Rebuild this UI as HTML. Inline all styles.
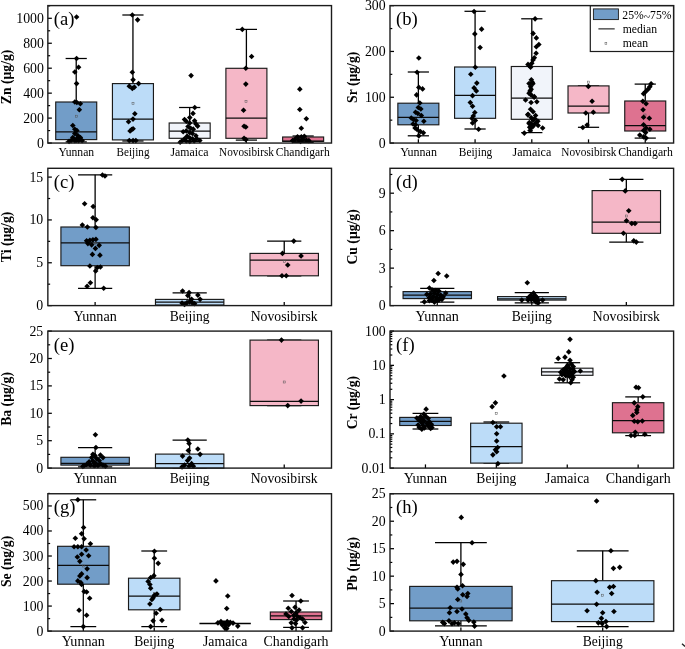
<!DOCTYPE html>
<html lang="en">
<head>
<meta charset="utf-8">
<title>Box plots of element concentrations</title>
<style>
html,body{margin:0;padding:0;background:#fff;}
body{width:685px;height:649px;overflow:hidden;}
svg{display:block;}
svg text{font-family:"Liberation Serif", "DejaVu Serif", serif;fill:#000;}
</style>
</head>
<body>
<svg width="685" height="649" viewBox="0 0 685 649">
<rect width="685" height="649" fill="#fff"/>
<line x1="47.85" y1="143.05" x2="51.85" y2="143.05" stroke="#000" stroke-width="1.25"/>
<text x="43.85" y="147.55" font-size="13.8" text-anchor="end" font-weight="normal" >0</text>
<line x1="47.85" y1="118.1" x2="51.85" y2="118.1" stroke="#000" stroke-width="1.25"/>
<text x="43.85" y="122.6" font-size="13.8" text-anchor="end" font-weight="normal" >200</text>
<line x1="47.85" y1="93.15" x2="51.85" y2="93.15" stroke="#000" stroke-width="1.25"/>
<text x="43.85" y="97.65" font-size="13.8" text-anchor="end" font-weight="normal" >400</text>
<line x1="47.85" y1="68.2" x2="51.85" y2="68.2" stroke="#000" stroke-width="1.25"/>
<text x="43.85" y="72.7" font-size="13.8" text-anchor="end" font-weight="normal" >600</text>
<line x1="47.85" y1="43.25" x2="51.85" y2="43.25" stroke="#000" stroke-width="1.25"/>
<text x="43.85" y="47.75" font-size="13.8" text-anchor="end" font-weight="normal" >800</text>
<line x1="47.85" y1="18.3" x2="51.85" y2="18.3" stroke="#000" stroke-width="1.25"/>
<text x="43.85" y="22.8" font-size="13.8" text-anchor="end" font-weight="normal" >1000</text>
<line x1="47.85" y1="130.58" x2="50.15" y2="130.58" stroke="#000" stroke-width="1.2"/>
<line x1="47.85" y1="105.63" x2="50.15" y2="105.63" stroke="#000" stroke-width="1.2"/>
<line x1="47.85" y1="80.68" x2="50.15" y2="80.68" stroke="#000" stroke-width="1.2"/>
<line x1="47.85" y1="55.73" x2="50.15" y2="55.73" stroke="#000" stroke-width="1.2"/>
<line x1="47.85" y1="30.78" x2="50.15" y2="30.78" stroke="#000" stroke-width="1.2"/>
<line x1="47.85" y1="5.83" x2="50.15" y2="5.83" stroke="#000" stroke-width="1.2"/>
<line x1="76.22" y1="139.35" x2="76.22" y2="143.05" stroke="#000" stroke-width="1.25"/>
<text x="58.6" y="156.2" font-size="12.2" font-weight="normal" textLength="35.5" lengthAdjust="spacingAndGlyphs">Yunnan</text>
<line x1="132.94" y1="139.35" x2="132.94" y2="143.05" stroke="#000" stroke-width="1.25"/>
<text x="116.6" y="156.2" font-size="12.2" font-weight="normal" textLength="32.89" lengthAdjust="spacingAndGlyphs">Beijing</text>
<line x1="189.67" y1="139.35" x2="189.67" y2="143.05" stroke="#000" stroke-width="1.25"/>
<text x="170.5" y="156.2" font-size="12.2" font-weight="normal" textLength="38.1" lengthAdjust="spacingAndGlyphs">Jamaica</text>
<line x1="246.4" y1="139.35" x2="246.4" y2="143.05" stroke="#000" stroke-width="1.25"/>
<text x="219.1" y="156.2" font-size="12.2" font-weight="normal" textLength="54.79" lengthAdjust="spacingAndGlyphs">Novosibirsk</text>
<line x1="303.13" y1="139.35" x2="303.13" y2="143.05" stroke="#000" stroke-width="1.25"/>
<text x="275.8" y="156.2" font-size="12.2" font-weight="normal" textLength="53.91" lengthAdjust="spacingAndGlyphs">Chandigarh</text>
<text x="53.85" y="25" font-size="18.6" text-anchor="start" font-weight="normal" >(a)</text>
<text transform="translate(11.2 76.92) rotate(-90)" font-size="13.7" font-weight="bold" text-anchor="middle">Zn (μg/g)</text>
<line x1="76.22" y1="58.5" x2="76.22" y2="102" stroke="#000" stroke-width="1.3"/>
<line x1="76.22" y1="139.6" x2="76.22" y2="141.9" stroke="#000" stroke-width="1.25"/>
<line x1="65.62" y1="58.5" x2="86.81" y2="58.5" stroke="#000" stroke-width="1.25"/>
<line x1="65.62" y1="141.9" x2="86.81" y2="141.9" stroke="#000" stroke-width="1.25"/>
<rect x="55.72" y="102" width="41" height="37.6" fill="#729dc8" stroke="#1a1a1a" stroke-width="1.15"/>
<line x1="55.72" y1="131.8" x2="96.72" y2="131.8" stroke="#0c0c0c" stroke-width="1.25"/>
<rect x="75.6" y="115.2" width="2" height="2" fill="none" stroke="#555" stroke-width="0.5"/>
<line x1="132.94" y1="15" x2="132.94" y2="83.6" stroke="#000" stroke-width="1.3"/>
<line x1="132.94" y1="139.9" x2="132.94" y2="141" stroke="#000" stroke-width="1.25"/>
<line x1="122.34" y1="15" x2="143.54" y2="15" stroke="#000" stroke-width="1.25"/>
<line x1="122.34" y1="141" x2="143.54" y2="141" stroke="#000" stroke-width="1.25"/>
<rect x="112.44" y="83.6" width="41" height="56.3" fill="#bcdcf8" stroke="#1a1a1a" stroke-width="1.15"/>
<line x1="112.44" y1="119" x2="153.44" y2="119" stroke="#0c0c0c" stroke-width="1.25"/>
<rect x="132" y="102.7" width="2" height="2" fill="none" stroke="#555" stroke-width="0.5"/>
<line x1="189.67" y1="107.5" x2="189.67" y2="123" stroke="#000" stroke-width="1.3"/>
<line x1="189.67" y1="138.3" x2="189.67" y2="141.6" stroke="#000" stroke-width="1.25"/>
<line x1="179.07" y1="107.5" x2="200.27" y2="107.5" stroke="#000" stroke-width="1.25"/>
<line x1="179.07" y1="141.6" x2="200.27" y2="141.6" stroke="#000" stroke-width="1.25"/>
<rect x="169.17" y="123" width="41" height="15.3" fill="#f1f4fa" stroke="#1a1a1a" stroke-width="1.15"/>
<line x1="169.17" y1="131" x2="210.17" y2="131" stroke="#0c0c0c" stroke-width="1.25"/>
<rect x="188.6" y="128" width="2" height="2" fill="none" stroke="#555" stroke-width="0.5"/>
<line x1="246.4" y1="29.4" x2="246.4" y2="68.3" stroke="#000" stroke-width="1.3"/>
<line x1="246.4" y1="138.3" x2="246.4" y2="140.1" stroke="#000" stroke-width="1.25"/>
<line x1="235.8" y1="29.4" x2="257" y2="29.4" stroke="#000" stroke-width="1.25"/>
<line x1="235.8" y1="140.1" x2="257" y2="140.1" stroke="#000" stroke-width="1.25"/>
<rect x="225.9" y="68.3" width="41" height="70" fill="#f5b7c7" stroke="#1a1a1a" stroke-width="1.15"/>
<line x1="225.9" y1="118" x2="266.9" y2="118" stroke="#0c0c0c" stroke-width="1.25"/>
<rect x="245" y="100.7" width="2" height="2" fill="none" stroke="#555" stroke-width="0.5"/>
<line x1="303.13" y1="136" x2="303.13" y2="137" stroke="#000" stroke-width="1.3"/>
<line x1="303.13" y1="141.4" x2="303.13" y2="142.4" stroke="#000" stroke-width="1.25"/>
<line x1="292.53" y1="136" x2="313.74" y2="136" stroke="#000" stroke-width="1.25"/>
<line x1="292.53" y1="142.4" x2="313.74" y2="142.4" stroke="#000" stroke-width="1.25"/>
<rect x="282.63" y="137" width="41" height="4.4" fill="#de7290" stroke="#1a1a1a" stroke-width="1.15"/>
<line x1="282.63" y1="141" x2="323.63" y2="141" stroke="#0c0c0c" stroke-width="1.25"/>
<rect x="301.5" y="137" width="2" height="2" fill="none" stroke="#555" stroke-width="0.5"/>
<line x1="390" y1="143.05" x2="394" y2="143.05" stroke="#000" stroke-width="1.25"/>
<text x="385.6" y="147.55" font-size="13.8" text-anchor="end" font-weight="normal" >0</text>
<line x1="390" y1="97.25" x2="394" y2="97.25" stroke="#000" stroke-width="1.25"/>
<text x="385.6" y="101.75" font-size="13.8" text-anchor="end" font-weight="normal" >100</text>
<line x1="390" y1="51.45" x2="394" y2="51.45" stroke="#000" stroke-width="1.25"/>
<text x="385.6" y="55.95" font-size="13.8" text-anchor="end" font-weight="normal" >200</text>
<line x1="390" y1="5.65" x2="394" y2="5.65" stroke="#000" stroke-width="1.25"/>
<text x="385.6" y="10.15" font-size="13.8" text-anchor="end" font-weight="normal" >300</text>
<line x1="390" y1="120.15" x2="392.3" y2="120.15" stroke="#000" stroke-width="1.2"/>
<line x1="390" y1="74.35" x2="392.3" y2="74.35" stroke="#000" stroke-width="1.2"/>
<line x1="390" y1="28.55" x2="392.3" y2="28.55" stroke="#000" stroke-width="1.2"/>
<line x1="418.36" y1="139.35" x2="418.36" y2="143.05" stroke="#000" stroke-width="1.25"/>
<text x="400.3" y="156.2" font-size="12.2" font-weight="normal" textLength="36.6" lengthAdjust="spacingAndGlyphs">Yunnan</text>
<line x1="475.08" y1="139.35" x2="475.08" y2="143.05" stroke="#000" stroke-width="1.25"/>
<text x="458.8" y="156.2" font-size="12.2" font-weight="normal" textLength="33.49" lengthAdjust="spacingAndGlyphs">Beijing</text>
<line x1="531.8" y1="139.35" x2="531.8" y2="143.05" stroke="#000" stroke-width="1.25"/>
<text x="512.6" y="156.2" font-size="12.2" font-weight="normal" textLength="38.7" lengthAdjust="spacingAndGlyphs">Jamaica</text>
<line x1="588.52" y1="139.35" x2="588.52" y2="143.05" stroke="#000" stroke-width="1.25"/>
<text x="561.3" y="156.2" font-size="12.2" font-weight="normal" textLength="55.19" lengthAdjust="spacingAndGlyphs">Novosibirsk</text>
<line x1="645.24" y1="139.35" x2="645.24" y2="143.05" stroke="#000" stroke-width="1.25"/>
<text x="618.2" y="156.2" font-size="12.2" font-weight="normal" textLength="54.71" lengthAdjust="spacingAndGlyphs">Chandigarh</text>
<text x="396" y="25" font-size="18.6" text-anchor="start" font-weight="normal" >(b)</text>
<text transform="translate(357.3 77.33) rotate(-90)" font-size="13.7" font-weight="bold" text-anchor="middle">Sr (μg/g)</text>
<line x1="418.36" y1="72" x2="418.36" y2="103.2" stroke="#000" stroke-width="1.3"/>
<line x1="418.36" y1="124.8" x2="418.36" y2="135.8" stroke="#000" stroke-width="1.25"/>
<line x1="407.76" y1="72" x2="428.96" y2="72" stroke="#000" stroke-width="1.25"/>
<line x1="407.76" y1="135.8" x2="428.96" y2="135.8" stroke="#000" stroke-width="1.25"/>
<rect x="397.86" y="103.2" width="41" height="21.6" fill="#729dc8" stroke="#1a1a1a" stroke-width="1.15"/>
<line x1="397.86" y1="117.3" x2="438.86" y2="117.3" stroke="#0c0c0c" stroke-width="1.25"/>
<rect x="417.3" y="112.5" width="2" height="2" fill="none" stroke="#555" stroke-width="0.5"/>
<line x1="475.08" y1="11.3" x2="475.08" y2="67" stroke="#000" stroke-width="1.3"/>
<line x1="475.08" y1="118.3" x2="475.08" y2="129" stroke="#000" stroke-width="1.25"/>
<line x1="464.48" y1="11.3" x2="485.68" y2="11.3" stroke="#000" stroke-width="1.25"/>
<line x1="464.48" y1="129" x2="485.68" y2="129" stroke="#000" stroke-width="1.25"/>
<rect x="454.58" y="67" width="41" height="51.3" fill="#bcdcf8" stroke="#1a1a1a" stroke-width="1.15"/>
<line x1="454.58" y1="95.4" x2="495.58" y2="95.4" stroke="#0c0c0c" stroke-width="1.25"/>
<rect x="473.8" y="88" width="2" height="2" fill="none" stroke="#555" stroke-width="0.5"/>
<line x1="531.8" y1="18.8" x2="531.8" y2="66.5" stroke="#000" stroke-width="1.3"/>
<line x1="531.8" y1="119.3" x2="531.8" y2="132.6" stroke="#000" stroke-width="1.25"/>
<line x1="521.2" y1="18.8" x2="542.4" y2="18.8" stroke="#000" stroke-width="1.25"/>
<line x1="521.2" y1="132.6" x2="542.4" y2="132.6" stroke="#000" stroke-width="1.25"/>
<rect x="511.3" y="66.5" width="41" height="52.8" fill="#f1f4fa" stroke="#1a1a1a" stroke-width="1.15"/>
<line x1="511.3" y1="98.2" x2="552.3" y2="98.2" stroke="#0c0c0c" stroke-width="1.25"/>
<rect x="530.5" y="93" width="2" height="2" fill="none" stroke="#555" stroke-width="0.5"/>
<line x1="588.52" y1="113" x2="588.52" y2="127.3" stroke="#000" stroke-width="1.25"/>
<line x1="577.92" y1="85.9" x2="599.12" y2="85.9" stroke="#000" stroke-width="1.25"/>
<line x1="577.92" y1="127.3" x2="599.12" y2="127.3" stroke="#000" stroke-width="1.25"/>
<rect x="568.02" y="85.9" width="41" height="27.1" fill="#f5b7c7" stroke="#1a1a1a" stroke-width="1.15"/>
<line x1="568.02" y1="106.2" x2="609.02" y2="106.2" stroke="#0c0c0c" stroke-width="1.25"/>
<rect x="587.3" y="81.1" width="2" height="2" fill="none" stroke="#555" stroke-width="0.5"/>
<line x1="645.24" y1="84.1" x2="645.24" y2="101" stroke="#000" stroke-width="1.3"/>
<line x1="645.24" y1="131" x2="645.24" y2="138.1" stroke="#000" stroke-width="1.25"/>
<line x1="634.64" y1="84.1" x2="655.84" y2="84.1" stroke="#000" stroke-width="1.25"/>
<line x1="634.64" y1="138.1" x2="655.84" y2="138.1" stroke="#000" stroke-width="1.25"/>
<rect x="624.74" y="101" width="41" height="30" fill="#de7290" stroke="#1a1a1a" stroke-width="1.15"/>
<line x1="624.74" y1="125.6" x2="665.74" y2="125.6" stroke="#0c0c0c" stroke-width="1.25"/>
<rect x="644" y="114" width="2" height="2" fill="none" stroke="#555" stroke-width="0.5"/>
<rect x="590.3" y="5.6" width="83.3" height="45.9" fill="#fff" stroke="#1c1c1c" stroke-width="1.2"/>
<rect x="593.4" y="8.9" width="25" height="10.7" fill="#729dc8" stroke="#1c1c1c" stroke-width="0.9"/>
<text x="622.3" y="18.9" font-size="12.3" text-anchor="start" font-weight="normal" textLength="49.3" lengthAdjust="spacingAndGlyphs">25%<tspan dy="2.2">~</tspan><tspan dy="-2.2">75%</tspan></text>
<line x1="598.4" y1="28.9" x2="614.7" y2="28.9" stroke="#000" stroke-width="1.0"/>
<text x="622.7" y="32.6" font-size="11.7" text-anchor="start" font-weight="normal" >median</text>
<rect x="605" y="42.5" width="1.8" height="1.8" fill="none" stroke="#555" stroke-width="0.5"/>
<text x="622.7" y="47.2" font-size="11.7" text-anchor="start" font-weight="normal" >mean</text>
<line x1="47.85" y1="305.6" x2="51.85" y2="305.6" stroke="#000" stroke-width="1.25"/>
<text x="43.25" y="310.1" font-size="13.8" text-anchor="end" font-weight="normal" >0</text>
<line x1="47.85" y1="262.77" x2="51.85" y2="262.77" stroke="#000" stroke-width="1.25"/>
<text x="43.25" y="267.27" font-size="13.8" text-anchor="end" font-weight="normal" >5</text>
<line x1="47.85" y1="219.93" x2="51.85" y2="219.93" stroke="#000" stroke-width="1.25"/>
<text x="43.25" y="224.43" font-size="13.8" text-anchor="end" font-weight="normal" >10</text>
<line x1="47.85" y1="177.1" x2="51.85" y2="177.1" stroke="#000" stroke-width="1.25"/>
<text x="43.25" y="181.6" font-size="13.8" text-anchor="end" font-weight="normal" >15</text>
<line x1="47.85" y1="284.18" x2="50.15" y2="284.18" stroke="#000" stroke-width="1.2"/>
<line x1="47.85" y1="241.35" x2="50.15" y2="241.35" stroke="#000" stroke-width="1.2"/>
<line x1="47.85" y1="198.51" x2="50.15" y2="198.51" stroke="#000" stroke-width="1.2"/>
<line x1="95.12" y1="301.9" x2="95.12" y2="305.6" stroke="#000" stroke-width="1.25"/>
<text x="73.47" y="321" font-size="14.4" font-weight="normal" textLength="43.3" lengthAdjust="spacingAndGlyphs">Yunnan</text>
<line x1="189.67" y1="301.9" x2="189.67" y2="305.6" stroke="#000" stroke-width="1.25"/>
<text x="169.67" y="321" font-size="14.4" font-weight="normal" textLength="39.99" lengthAdjust="spacingAndGlyphs">Beijing</text>
<line x1="284.23" y1="301.9" x2="284.23" y2="305.6" stroke="#000" stroke-width="1.25"/>
<text x="250.73" y="321" font-size="14.4" font-weight="normal" textLength="66.99" lengthAdjust="spacingAndGlyphs">Novosibirsk</text>
<text x="53.85" y="187.7" font-size="18.6" text-anchor="start" font-weight="normal" >(c)</text>
<text transform="translate(11.2 236.95) rotate(-90)" font-size="13.7" font-weight="bold" text-anchor="middle">Ti (μg/g)</text>
<line x1="95.12" y1="174.8" x2="95.12" y2="227" stroke="#000" stroke-width="1.3"/>
<line x1="95.12" y1="265.7" x2="95.12" y2="288.3" stroke="#000" stroke-width="1.25"/>
<line x1="78.03" y1="174.8" x2="112.22" y2="174.8" stroke="#000" stroke-width="1.25"/>
<line x1="78.03" y1="288.3" x2="112.22" y2="288.3" stroke="#000" stroke-width="1.25"/>
<rect x="60.92" y="227" width="68.4" height="38.7" fill="#729dc8" stroke="#1a1a1a" stroke-width="1.15"/>
<line x1="60.92" y1="242.9" x2="129.32" y2="242.9" stroke="#0c0c0c" stroke-width="1.25"/>
<rect x="94" y="242.5" width="2" height="2" fill="none" stroke="#555" stroke-width="0.5"/>
<line x1="189.67" y1="292.9" x2="189.67" y2="299.4" stroke="#000" stroke-width="1.3"/>
<line x1="189.67" y1="305" x2="189.67" y2="305.4" stroke="#000" stroke-width="1.25"/>
<line x1="172.57" y1="292.9" x2="206.77" y2="292.9" stroke="#000" stroke-width="1.25"/>
<line x1="172.57" y1="305.4" x2="206.77" y2="305.4" stroke="#000" stroke-width="1.25"/>
<rect x="155.47" y="299.4" width="68.4" height="5.6" fill="#bcdcf8" stroke="#1a1a1a" stroke-width="1.15"/>
<line x1="155.47" y1="302" x2="223.88" y2="302" stroke="#0c0c0c" stroke-width="1.25"/>
<rect x="188.7" y="299.5" width="2" height="2" fill="none" stroke="#555" stroke-width="0.5"/>
<line x1="284.23" y1="241.1" x2="284.23" y2="253.4" stroke="#000" stroke-width="1.3"/>
<line x1="267.12" y1="241.1" x2="301.33" y2="241.1" stroke="#000" stroke-width="1.25"/>
<line x1="267.12" y1="275.8" x2="301.33" y2="275.8" stroke="#000" stroke-width="1.25"/>
<rect x="250.03" y="253.4" width="68.4" height="22.4" fill="#f5b7c7" stroke="#1a1a1a" stroke-width="1.15"/>
<line x1="250.03" y1="260.2" x2="318.43" y2="260.2" stroke="#0c0c0c" stroke-width="1.25"/>
<rect x="283.4" y="260.6" width="2" height="2" fill="none" stroke="#555" stroke-width="0.5"/>
<line x1="390" y1="305.6" x2="394" y2="305.6" stroke="#000" stroke-width="1.25"/>
<text x="385.6" y="310.1" font-size="13.8" text-anchor="end" font-weight="normal" >0</text>
<line x1="390" y1="268.13" x2="394" y2="268.13" stroke="#000" stroke-width="1.25"/>
<text x="385.6" y="272.63" font-size="13.8" text-anchor="end" font-weight="normal" >3</text>
<line x1="390" y1="230.66" x2="394" y2="230.66" stroke="#000" stroke-width="1.25"/>
<text x="385.6" y="235.16" font-size="13.8" text-anchor="end" font-weight="normal" >6</text>
<line x1="390" y1="193.19" x2="394" y2="193.19" stroke="#000" stroke-width="1.25"/>
<text x="385.6" y="197.69" font-size="13.8" text-anchor="end" font-weight="normal" >9</text>
<line x1="390" y1="286.87" x2="392.3" y2="286.87" stroke="#000" stroke-width="1.2"/>
<line x1="390" y1="249.4" x2="392.3" y2="249.4" stroke="#000" stroke-width="1.2"/>
<line x1="390" y1="211.93" x2="392.3" y2="211.93" stroke="#000" stroke-width="1.2"/>
<line x1="390" y1="174.46" x2="392.3" y2="174.46" stroke="#000" stroke-width="1.2"/>
<line x1="437.27" y1="301.9" x2="437.27" y2="305.6" stroke="#000" stroke-width="1.25"/>
<text x="415.62" y="321" font-size="14.4" font-weight="normal" textLength="43.3" lengthAdjust="spacingAndGlyphs">Yunnan</text>
<line x1="531.8" y1="301.9" x2="531.8" y2="305.6" stroke="#000" stroke-width="1.25"/>
<text x="511.8" y="321" font-size="14.4" font-weight="normal" textLength="39.99" lengthAdjust="spacingAndGlyphs">Beijing</text>
<line x1="626.33" y1="301.9" x2="626.33" y2="305.6" stroke="#000" stroke-width="1.25"/>
<text x="592.83" y="321" font-size="14.4" font-weight="normal" textLength="66.99" lengthAdjust="spacingAndGlyphs">Novosibirsk</text>
<text x="396" y="187.7" font-size="18.6" text-anchor="start" font-weight="normal" >(d)</text>
<text transform="translate(357.3 236.95) rotate(-90)" font-size="13.7" font-weight="bold" text-anchor="middle">Cu (μg/g)</text>
<line x1="437.27" y1="288.3" x2="437.27" y2="291.6" stroke="#000" stroke-width="1.3"/>
<line x1="437.27" y1="298.6" x2="437.27" y2="302.1" stroke="#000" stroke-width="1.25"/>
<line x1="420.17" y1="288.3" x2="454.37" y2="288.3" stroke="#000" stroke-width="1.25"/>
<line x1="420.17" y1="302.1" x2="454.37" y2="302.1" stroke="#000" stroke-width="1.25"/>
<rect x="403.07" y="291.6" width="68.4" height="7" fill="#729dc8" stroke="#1a1a1a" stroke-width="1.15"/>
<line x1="403.07" y1="295.1" x2="471.47" y2="295.1" stroke="#0c0c0c" stroke-width="1.25"/>
<rect x="436.2" y="293" width="2" height="2" fill="none" stroke="#555" stroke-width="0.5"/>
<line x1="531.8" y1="292.6" x2="531.8" y2="296.6" stroke="#000" stroke-width="1.3"/>
<line x1="531.8" y1="300.1" x2="531.8" y2="302.9" stroke="#000" stroke-width="1.25"/>
<line x1="514.7" y1="292.6" x2="548.9" y2="292.6" stroke="#000" stroke-width="1.25"/>
<line x1="514.7" y1="302.9" x2="548.9" y2="302.9" stroke="#000" stroke-width="1.25"/>
<rect x="497.6" y="296.6" width="68.4" height="3.5" fill="#bcdcf8" stroke="#1a1a1a" stroke-width="1.15"/>
<line x1="497.6" y1="298.8" x2="566" y2="298.8" stroke="#0c0c0c" stroke-width="1.25"/>
<rect x="530.8" y="297" width="2" height="2" fill="none" stroke="#555" stroke-width="0.5"/>
<line x1="626.33" y1="179.3" x2="626.33" y2="190.6" stroke="#000" stroke-width="1.3"/>
<line x1="626.33" y1="233.3" x2="626.33" y2="242.1" stroke="#000" stroke-width="1.25"/>
<line x1="609.23" y1="179.3" x2="643.43" y2="179.3" stroke="#000" stroke-width="1.25"/>
<line x1="609.23" y1="242.1" x2="643.43" y2="242.1" stroke="#000" stroke-width="1.25"/>
<rect x="592.13" y="190.6" width="68.4" height="42.7" fill="#f5b7c7" stroke="#1a1a1a" stroke-width="1.15"/>
<line x1="592.13" y1="222" x2="660.53" y2="222" stroke="#0c0c0c" stroke-width="1.25"/>
<rect x="625.4" y="215" width="2" height="2" fill="none" stroke="#555" stroke-width="0.5"/>
<line x1="47.85" y1="468.1" x2="51.85" y2="468.1" stroke="#000" stroke-width="1.25"/>
<text x="43.25" y="472.6" font-size="13.8" text-anchor="end" font-weight="normal" >0</text>
<line x1="47.85" y1="440.7" x2="51.85" y2="440.7" stroke="#000" stroke-width="1.25"/>
<text x="43.25" y="445.2" font-size="13.8" text-anchor="end" font-weight="normal" >5</text>
<line x1="47.85" y1="413.3" x2="51.85" y2="413.3" stroke="#000" stroke-width="1.25"/>
<text x="43.25" y="417.8" font-size="13.8" text-anchor="end" font-weight="normal" >10</text>
<line x1="47.85" y1="385.9" x2="51.85" y2="385.9" stroke="#000" stroke-width="1.25"/>
<text x="43.25" y="390.4" font-size="13.8" text-anchor="end" font-weight="normal" >15</text>
<line x1="47.85" y1="358.5" x2="51.85" y2="358.5" stroke="#000" stroke-width="1.25"/>
<text x="43.25" y="363" font-size="13.8" text-anchor="end" font-weight="normal" >20</text>
<line x1="47.85" y1="331.1" x2="51.85" y2="331.1" stroke="#000" stroke-width="1.25"/>
<text x="43.25" y="335.6" font-size="13.8" text-anchor="end" font-weight="normal" >25</text>
<line x1="47.85" y1="454.4" x2="50.15" y2="454.4" stroke="#000" stroke-width="1.2"/>
<line x1="47.85" y1="427" x2="50.15" y2="427" stroke="#000" stroke-width="1.2"/>
<line x1="47.85" y1="399.6" x2="50.15" y2="399.6" stroke="#000" stroke-width="1.2"/>
<line x1="47.85" y1="372.2" x2="50.15" y2="372.2" stroke="#000" stroke-width="1.2"/>
<line x1="47.85" y1="344.8" x2="50.15" y2="344.8" stroke="#000" stroke-width="1.2"/>
<line x1="95.12" y1="464.4" x2="95.12" y2="468.1" stroke="#000" stroke-width="1.25"/>
<text x="73.47" y="482.9" font-size="14.4" font-weight="normal" textLength="43.3" lengthAdjust="spacingAndGlyphs">Yunnan</text>
<line x1="189.67" y1="464.4" x2="189.67" y2="468.1" stroke="#000" stroke-width="1.25"/>
<text x="169.67" y="482.9" font-size="14.4" font-weight="normal" textLength="39.99" lengthAdjust="spacingAndGlyphs">Beijing</text>
<line x1="284.23" y1="464.4" x2="284.23" y2="468.1" stroke="#000" stroke-width="1.25"/>
<text x="250.73" y="482.9" font-size="14.4" font-weight="normal" textLength="66.99" lengthAdjust="spacingAndGlyphs">Novosibirsk</text>
<text x="53.85" y="350.5" font-size="18.6" text-anchor="start" font-weight="normal" >(e)</text>
<text transform="translate(11.2 398.9) rotate(-90)" font-size="13.7" font-weight="bold" text-anchor="middle">Ba (μg/g)</text>
<line x1="95.12" y1="447.5" x2="95.12" y2="457.3" stroke="#000" stroke-width="1.3"/>
<line x1="95.12" y1="465.1" x2="95.12" y2="466.9" stroke="#000" stroke-width="1.25"/>
<line x1="78.03" y1="447.5" x2="112.22" y2="447.5" stroke="#000" stroke-width="1.25"/>
<line x1="78.03" y1="466.9" x2="112.22" y2="466.9" stroke="#000" stroke-width="1.25"/>
<rect x="60.92" y="457.3" width="68.4" height="7.8" fill="#729dc8" stroke="#1a1a1a" stroke-width="1.15"/>
<line x1="60.92" y1="463.4" x2="129.32" y2="463.4" stroke="#0c0c0c" stroke-width="1.25"/>
<rect x="94" y="460" width="2" height="2" fill="none" stroke="#555" stroke-width="0.5"/>
<line x1="189.67" y1="440" x2="189.67" y2="454.1" stroke="#000" stroke-width="1.3"/>
<line x1="172.57" y1="440" x2="206.77" y2="440" stroke="#000" stroke-width="1.25"/>
<line x1="172.57" y1="468.1" x2="206.77" y2="468.1" stroke="#000" stroke-width="1.25"/>
<rect x="155.47" y="454.1" width="68.4" height="14" fill="#bcdcf8" stroke="#1a1a1a" stroke-width="1.15"/>
<line x1="155.47" y1="463.6" x2="223.88" y2="463.6" stroke="#0c0c0c" stroke-width="1.25"/>
<rect x="188.7" y="458" width="2" height="2" fill="none" stroke="#555" stroke-width="0.5"/>
<line x1="267.12" y1="340.1" x2="301.33" y2="340.1" stroke="#000" stroke-width="1.25"/>
<line x1="267.12" y1="405.6" x2="301.33" y2="405.6" stroke="#000" stroke-width="1.25"/>
<rect x="250.03" y="340.1" width="68.4" height="65.5" fill="#f5b7c7" stroke="#1a1a1a" stroke-width="1.15"/>
<line x1="250.03" y1="401.3" x2="318.43" y2="401.3" stroke="#0c0c0c" stroke-width="1.25"/>
<rect x="283.2" y="381" width="2" height="2" fill="none" stroke="#555" stroke-width="0.5"/>
<line x1="390" y1="468.1" x2="394" y2="468.1" stroke="#000" stroke-width="1.25"/>
<text x="385.7" y="472.6" font-size="13.8" text-anchor="end" font-weight="normal" >0.01</text>
<line x1="390" y1="433.85" x2="394" y2="433.85" stroke="#000" stroke-width="1.25"/>
<text x="385.7" y="438.35" font-size="13.8" text-anchor="end" font-weight="normal" >0.1</text>
<line x1="390" y1="399.6" x2="394" y2="399.6" stroke="#000" stroke-width="1.25"/>
<text x="385.7" y="404.1" font-size="13.8" text-anchor="end" font-weight="normal" >1</text>
<line x1="390" y1="365.35" x2="394" y2="365.35" stroke="#000" stroke-width="1.25"/>
<text x="385.7" y="369.85" font-size="13.8" text-anchor="end" font-weight="normal" >10</text>
<line x1="390" y1="331.1" x2="394" y2="331.1" stroke="#000" stroke-width="1.25"/>
<text x="385.7" y="335.6" font-size="13.8" text-anchor="end" font-weight="normal" >100</text>
<line x1="390" y1="457.79" x2="392.3" y2="457.79" stroke="#000" stroke-width="1.2"/>
<line x1="390" y1="451.76" x2="392.3" y2="451.76" stroke="#000" stroke-width="1.2"/>
<line x1="390" y1="447.48" x2="392.3" y2="447.48" stroke="#000" stroke-width="1.2"/>
<line x1="390" y1="444.16" x2="392.3" y2="444.16" stroke="#000" stroke-width="1.2"/>
<line x1="390" y1="441.45" x2="392.3" y2="441.45" stroke="#000" stroke-width="1.2"/>
<line x1="390" y1="439.16" x2="392.3" y2="439.16" stroke="#000" stroke-width="1.2"/>
<line x1="390" y1="437.17" x2="392.3" y2="437.17" stroke="#000" stroke-width="1.2"/>
<line x1="390" y1="435.42" x2="392.3" y2="435.42" stroke="#000" stroke-width="1.2"/>
<line x1="390" y1="423.54" x2="392.3" y2="423.54" stroke="#000" stroke-width="1.2"/>
<line x1="390" y1="417.51" x2="392.3" y2="417.51" stroke="#000" stroke-width="1.2"/>
<line x1="390" y1="413.23" x2="392.3" y2="413.23" stroke="#000" stroke-width="1.2"/>
<line x1="390" y1="409.91" x2="392.3" y2="409.91" stroke="#000" stroke-width="1.2"/>
<line x1="390" y1="407.2" x2="392.3" y2="407.2" stroke="#000" stroke-width="1.2"/>
<line x1="390" y1="404.91" x2="392.3" y2="404.91" stroke="#000" stroke-width="1.2"/>
<line x1="390" y1="402.92" x2="392.3" y2="402.92" stroke="#000" stroke-width="1.2"/>
<line x1="390" y1="401.17" x2="392.3" y2="401.17" stroke="#000" stroke-width="1.2"/>
<line x1="390" y1="389.29" x2="392.3" y2="389.29" stroke="#000" stroke-width="1.2"/>
<line x1="390" y1="383.26" x2="392.3" y2="383.26" stroke="#000" stroke-width="1.2"/>
<line x1="390" y1="378.98" x2="392.3" y2="378.98" stroke="#000" stroke-width="1.2"/>
<line x1="390" y1="375.66" x2="392.3" y2="375.66" stroke="#000" stroke-width="1.2"/>
<line x1="390" y1="372.95" x2="392.3" y2="372.95" stroke="#000" stroke-width="1.2"/>
<line x1="390" y1="370.66" x2="392.3" y2="370.66" stroke="#000" stroke-width="1.2"/>
<line x1="390" y1="368.67" x2="392.3" y2="368.67" stroke="#000" stroke-width="1.2"/>
<line x1="390" y1="366.92" x2="392.3" y2="366.92" stroke="#000" stroke-width="1.2"/>
<line x1="390" y1="355.04" x2="392.3" y2="355.04" stroke="#000" stroke-width="1.2"/>
<line x1="390" y1="349.01" x2="392.3" y2="349.01" stroke="#000" stroke-width="1.2"/>
<line x1="390" y1="344.73" x2="392.3" y2="344.73" stroke="#000" stroke-width="1.2"/>
<line x1="390" y1="341.41" x2="392.3" y2="341.41" stroke="#000" stroke-width="1.2"/>
<line x1="390" y1="338.7" x2="392.3" y2="338.7" stroke="#000" stroke-width="1.2"/>
<line x1="390" y1="336.41" x2="392.3" y2="336.41" stroke="#000" stroke-width="1.2"/>
<line x1="390" y1="334.42" x2="392.3" y2="334.42" stroke="#000" stroke-width="1.2"/>
<line x1="390" y1="332.67" x2="392.3" y2="332.67" stroke="#000" stroke-width="1.2"/>
<line x1="425.45" y1="464.4" x2="425.45" y2="468.1" stroke="#000" stroke-width="1.25"/>
<text x="403.8" y="482.9" font-size="14.4" font-weight="normal" textLength="43.3" lengthAdjust="spacingAndGlyphs">Yunnan</text>
<line x1="496.35" y1="464.4" x2="496.35" y2="468.1" stroke="#000" stroke-width="1.25"/>
<text x="476.35" y="482.9" font-size="14.4" font-weight="normal" textLength="39.99" lengthAdjust="spacingAndGlyphs">Beijing</text>
<line x1="567.25" y1="464.4" x2="567.25" y2="468.1" stroke="#000" stroke-width="1.25"/>
<text x="545.1" y="482.9" font-size="14.4" font-weight="normal" textLength="44.3" lengthAdjust="spacingAndGlyphs">Jamaica</text>
<line x1="638.15" y1="464.4" x2="638.15" y2="468.1" stroke="#000" stroke-width="1.25"/>
<text x="605.65" y="482.9" font-size="14.4" font-weight="normal" textLength="65.01" lengthAdjust="spacingAndGlyphs">Chandigarh</text>
<text x="396" y="350.5" font-size="18.6" text-anchor="start" font-weight="normal" >(f)</text>
<text transform="translate(357.3 402.6) rotate(-90)" font-size="13.7" font-weight="bold" text-anchor="middle">Cr (μg/g)</text>
<line x1="425.45" y1="413.4" x2="425.45" y2="417.4" stroke="#000" stroke-width="1.3"/>
<line x1="425.45" y1="425.5" x2="425.45" y2="429" stroke="#000" stroke-width="1.25"/>
<line x1="412.55" y1="413.4" x2="438.35" y2="413.4" stroke="#000" stroke-width="1.25"/>
<line x1="412.55" y1="429" x2="438.35" y2="429" stroke="#000" stroke-width="1.25"/>
<rect x="399.75" y="417.4" width="51.4" height="8.1" fill="#729dc8" stroke="#1a1a1a" stroke-width="1.15"/>
<line x1="399.75" y1="421.4" x2="451.15" y2="421.4" stroke="#0c0c0c" stroke-width="1.25"/>
<rect x="424.4" y="420" width="2" height="2" fill="none" stroke="#555" stroke-width="0.5"/>
<line x1="496.35" y1="422" x2="496.35" y2="423.2" stroke="#000" stroke-width="1.3"/>
<line x1="483.45" y1="422" x2="509.25" y2="422" stroke="#000" stroke-width="1.25"/>
<line x1="483.45" y1="463.1" x2="509.25" y2="463.1" stroke="#000" stroke-width="1.25"/>
<rect x="470.65" y="423.2" width="51.4" height="39.9" fill="#bcdcf8" stroke="#1a1a1a" stroke-width="1.15"/>
<line x1="470.65" y1="446.5" x2="522.05" y2="446.5" stroke="#0c0c0c" stroke-width="1.25"/>
<rect x="495.2" y="412.7" width="2" height="2" fill="none" stroke="#555" stroke-width="0.5"/>
<line x1="567.25" y1="362.7" x2="567.25" y2="368.2" stroke="#000" stroke-width="1.3"/>
<line x1="567.25" y1="375.3" x2="567.25" y2="382.8" stroke="#000" stroke-width="1.25"/>
<line x1="554.35" y1="362.7" x2="580.15" y2="362.7" stroke="#000" stroke-width="1.25"/>
<line x1="554.35" y1="382.8" x2="580.15" y2="382.8" stroke="#000" stroke-width="1.25"/>
<rect x="541.55" y="368.2" width="51.4" height="7.1" fill="#f1f4fa" stroke="#1a1a1a" stroke-width="1.15"/>
<line x1="541.55" y1="371.8" x2="592.95" y2="371.8" stroke="#0c0c0c" stroke-width="1.25"/>
<rect x="566.3" y="370" width="2" height="2" fill="none" stroke="#555" stroke-width="0.5"/>
<line x1="638.15" y1="396.9" x2="638.15" y2="402.7" stroke="#000" stroke-width="1.3"/>
<line x1="638.15" y1="432.8" x2="638.15" y2="435.6" stroke="#000" stroke-width="1.25"/>
<line x1="625.25" y1="396.9" x2="651.05" y2="396.9" stroke="#000" stroke-width="1.25"/>
<line x1="625.25" y1="435.6" x2="651.05" y2="435.6" stroke="#000" stroke-width="1.25"/>
<rect x="612.45" y="402.7" width="51.4" height="30.1" fill="#de7290" stroke="#1a1a1a" stroke-width="1.15"/>
<line x1="612.45" y1="420.7" x2="663.85" y2="420.7" stroke="#0c0c0c" stroke-width="1.25"/>
<rect x="637.3" y="406" width="2" height="2" fill="none" stroke="#555" stroke-width="0.5"/>
<line x1="47.85" y1="631.1" x2="51.85" y2="631.1" stroke="#000" stroke-width="1.25"/>
<text x="43.45" y="635.6" font-size="13.8" text-anchor="end" font-weight="normal" >0</text>
<line x1="47.85" y1="606.07" x2="51.85" y2="606.07" stroke="#000" stroke-width="1.25"/>
<text x="43.45" y="610.57" font-size="13.8" text-anchor="end" font-weight="normal" >100</text>
<line x1="47.85" y1="581.04" x2="51.85" y2="581.04" stroke="#000" stroke-width="1.25"/>
<text x="43.45" y="585.54" font-size="13.8" text-anchor="end" font-weight="normal" >200</text>
<line x1="47.85" y1="556.01" x2="51.85" y2="556.01" stroke="#000" stroke-width="1.25"/>
<text x="43.45" y="560.51" font-size="13.8" text-anchor="end" font-weight="normal" >300</text>
<line x1="47.85" y1="530.98" x2="51.85" y2="530.98" stroke="#000" stroke-width="1.25"/>
<text x="43.45" y="535.48" font-size="13.8" text-anchor="end" font-weight="normal" >400</text>
<line x1="47.85" y1="505.95" x2="51.85" y2="505.95" stroke="#000" stroke-width="1.25"/>
<text x="43.45" y="510.45" font-size="13.8" text-anchor="end" font-weight="normal" >500</text>
<line x1="47.85" y1="618.59" x2="50.15" y2="618.59" stroke="#000" stroke-width="1.2"/>
<line x1="47.85" y1="593.56" x2="50.15" y2="593.56" stroke="#000" stroke-width="1.2"/>
<line x1="47.85" y1="568.52" x2="50.15" y2="568.52" stroke="#000" stroke-width="1.2"/>
<line x1="47.85" y1="543.5" x2="50.15" y2="543.5" stroke="#000" stroke-width="1.2"/>
<line x1="47.85" y1="518.47" x2="50.15" y2="518.47" stroke="#000" stroke-width="1.2"/>
<line x1="47.85" y1="493.44" x2="50.15" y2="493.44" stroke="#000" stroke-width="1.2"/>
<line x1="83.31" y1="627.4" x2="83.31" y2="631.1" stroke="#000" stroke-width="1.25"/>
<text x="61.66" y="646" font-size="14.4" font-weight="normal" textLength="43.3" lengthAdjust="spacingAndGlyphs">Yunnan</text>
<line x1="154.22" y1="627.4" x2="154.22" y2="631.1" stroke="#000" stroke-width="1.25"/>
<text x="134.22" y="646" font-size="14.4" font-weight="normal" textLength="39.99" lengthAdjust="spacingAndGlyphs">Beijing</text>
<line x1="225.13" y1="627.4" x2="225.13" y2="631.1" stroke="#000" stroke-width="1.25"/>
<text x="202.98" y="646" font-size="14.4" font-weight="normal" textLength="44.3" lengthAdjust="spacingAndGlyphs">Jamaica</text>
<line x1="296.04" y1="627.4" x2="296.04" y2="631.1" stroke="#000" stroke-width="1.25"/>
<text x="263.54" y="646" font-size="14.4" font-weight="normal" textLength="65.01" lengthAdjust="spacingAndGlyphs">Chandigarh</text>
<text x="53.85" y="513.15" font-size="18.6" text-anchor="start" font-weight="normal" >(g)</text>
<text transform="translate(11.2 561.42) rotate(-90)" font-size="13.7" font-weight="bold" text-anchor="middle">Se (ng/g)</text>
<line x1="83.31" y1="499.8" x2="83.31" y2="546.3" stroke="#000" stroke-width="1.3"/>
<line x1="83.31" y1="584.2" x2="83.31" y2="626.6" stroke="#000" stroke-width="1.25"/>
<line x1="70.41" y1="499.8" x2="96.21" y2="499.8" stroke="#000" stroke-width="1.25"/>
<line x1="70.41" y1="626.6" x2="96.21" y2="626.6" stroke="#000" stroke-width="1.25"/>
<rect x="57.61" y="546.3" width="51.4" height="37.9" fill="#729dc8" stroke="#1a1a1a" stroke-width="1.15"/>
<line x1="57.61" y1="565.3" x2="109.01" y2="565.3" stroke="#0c0c0c" stroke-width="1.25"/>
<rect x="82.6" y="565" width="2" height="2" fill="none" stroke="#555" stroke-width="0.5"/>
<line x1="154.22" y1="551" x2="154.22" y2="578.2" stroke="#000" stroke-width="1.3"/>
<line x1="154.22" y1="609.8" x2="154.22" y2="626.6" stroke="#000" stroke-width="1.25"/>
<line x1="141.32" y1="551" x2="167.12" y2="551" stroke="#000" stroke-width="1.25"/>
<line x1="141.32" y1="626.6" x2="167.12" y2="626.6" stroke="#000" stroke-width="1.25"/>
<rect x="128.52" y="578.2" width="51.4" height="31.6" fill="#bcdcf8" stroke="#1a1a1a" stroke-width="1.15"/>
<line x1="128.52" y1="596" x2="179.92" y2="596" stroke="#0c0c0c" stroke-width="1.25"/>
<rect x="153.3" y="592.5" width="2" height="2" fill="none" stroke="#555" stroke-width="0.5"/>
<line x1="199.43" y1="623.4" x2="250.83" y2="623.4" stroke="#000" stroke-width="1.5"/>
<line x1="296.04" y1="601" x2="296.04" y2="612" stroke="#000" stroke-width="1.3"/>
<line x1="296.04" y1="619.6" x2="296.04" y2="627.4" stroke="#000" stroke-width="1.25"/>
<line x1="283.14" y1="601" x2="308.94" y2="601" stroke="#000" stroke-width="1.25"/>
<line x1="283.14" y1="627.4" x2="308.94" y2="627.4" stroke="#000" stroke-width="1.25"/>
<rect x="270.34" y="612" width="51.4" height="7.6" fill="#de7290" stroke="#1a1a1a" stroke-width="1.15"/>
<line x1="270.34" y1="615.8" x2="321.74" y2="615.8" stroke="#0c0c0c" stroke-width="1.25"/>
<rect x="295.2" y="615" width="2" height="2" fill="none" stroke="#555" stroke-width="0.5"/>
<line x1="390" y1="631.1" x2="394" y2="631.1" stroke="#000" stroke-width="1.25"/>
<text x="385.6" y="635.6" font-size="13.8" text-anchor="end" font-weight="normal" >0</text>
<line x1="390" y1="603.63" x2="394" y2="603.63" stroke="#000" stroke-width="1.25"/>
<text x="385.6" y="608.13" font-size="13.8" text-anchor="end" font-weight="normal" >5</text>
<line x1="390" y1="576.16" x2="394" y2="576.16" stroke="#000" stroke-width="1.25"/>
<text x="385.6" y="580.66" font-size="13.8" text-anchor="end" font-weight="normal" >10</text>
<line x1="390" y1="548.69" x2="394" y2="548.69" stroke="#000" stroke-width="1.25"/>
<text x="385.6" y="553.19" font-size="13.8" text-anchor="end" font-weight="normal" >15</text>
<line x1="390" y1="521.22" x2="394" y2="521.22" stroke="#000" stroke-width="1.25"/>
<text x="385.6" y="525.72" font-size="13.8" text-anchor="end" font-weight="normal" >20</text>
<line x1="390" y1="493.75" x2="394" y2="493.75" stroke="#000" stroke-width="1.25"/>
<text x="385.6" y="498.25" font-size="13.8" text-anchor="end" font-weight="normal" >25</text>
<line x1="390" y1="617.37" x2="392.3" y2="617.37" stroke="#000" stroke-width="1.2"/>
<line x1="390" y1="589.89" x2="392.3" y2="589.89" stroke="#000" stroke-width="1.2"/>
<line x1="390" y1="562.43" x2="392.3" y2="562.43" stroke="#000" stroke-width="1.2"/>
<line x1="390" y1="534.96" x2="392.3" y2="534.96" stroke="#000" stroke-width="1.2"/>
<line x1="390" y1="507.49" x2="392.3" y2="507.49" stroke="#000" stroke-width="1.2"/>
<line x1="460.9" y1="627.4" x2="460.9" y2="631.1" stroke="#000" stroke-width="1.25"/>
<text x="439.25" y="646" font-size="14.4" font-weight="normal" textLength="43.3" lengthAdjust="spacingAndGlyphs">Yunnan</text>
<line x1="602.7" y1="627.4" x2="602.7" y2="631.1" stroke="#000" stroke-width="1.25"/>
<text x="582.7" y="646" font-size="14.4" font-weight="normal" textLength="39.99" lengthAdjust="spacingAndGlyphs">Beijing</text>
<text x="396" y="513.15" font-size="18.6" text-anchor="start" font-weight="normal" >(h)</text>
<text transform="translate(357.3 563.92) rotate(-90)" font-size="13.7" font-weight="bold" text-anchor="middle">Pb (μg/g)</text>
<line x1="460.9" y1="542.5" x2="460.9" y2="586.4" stroke="#000" stroke-width="1.3"/>
<line x1="460.9" y1="620.8" x2="460.9" y2="625.8" stroke="#000" stroke-width="1.25"/>
<line x1="435" y1="542.5" x2="486.8" y2="542.5" stroke="#000" stroke-width="1.25"/>
<line x1="435" y1="625.8" x2="486.8" y2="625.8" stroke="#000" stroke-width="1.25"/>
<rect x="409.7" y="586.4" width="102.4" height="34.4" fill="#729dc8" stroke="#1a1a1a" stroke-width="1.15"/>
<line x1="409.7" y1="608" x2="512.1" y2="608" stroke="#0c0c0c" stroke-width="1.25"/>
<rect x="459.8" y="600" width="2" height="2" fill="none" stroke="#555" stroke-width="0.5"/>
<line x1="602.7" y1="550.8" x2="602.7" y2="580.7" stroke="#000" stroke-width="1.3"/>
<line x1="602.7" y1="621.6" x2="602.7" y2="626.6" stroke="#000" stroke-width="1.25"/>
<line x1="576.8" y1="550.8" x2="628.6" y2="550.8" stroke="#000" stroke-width="1.25"/>
<line x1="576.8" y1="626.6" x2="628.6" y2="626.6" stroke="#000" stroke-width="1.25"/>
<rect x="551.5" y="580.7" width="102.4" height="40.9" fill="#bcdcf8" stroke="#1a1a1a" stroke-width="1.15"/>
<line x1="551.5" y1="604" x2="653.9" y2="604" stroke="#0c0c0c" stroke-width="1.25"/>
<rect x="601.6" y="594.2" width="2" height="2" fill="none" stroke="#555" stroke-width="0.5"/>
<path d="M76.58 14.27L79.38 17.07L76.58 19.87L73.78 17.07Z" fill="#000"/>
<path d="M76.58 55.71L79.38 58.51L76.58 61.31L73.78 58.51Z" fill="#000"/>
<path d="M78.59 64.49L81.39 67.29L78.59 70.09L75.79 67.29Z" fill="#000"/>
<path d="M74.83 69.26L77.63 72.06L74.83 74.86L72.03 72.06Z" fill="#000"/>
<path d="M76.58 80.81L79.38 83.61L76.58 86.41L73.78 83.61Z" fill="#000"/>
<path d="M74.83 99.14L77.63 101.94L74.83 104.74L72.03 101.94Z" fill="#000"/>
<path d="M76.84 99.65L79.64 102.45L76.84 105.25L74.04 102.45Z" fill="#000"/>
<path d="M80.35 100.9L83.15 103.7L80.35 106.5L77.55 103.7Z" fill="#000"/>
<path d="M79.35 106.93L82.15 109.73L79.35 112.53L76.55 109.73Z" fill="#000"/>
<path d="M72.82 122.75L75.62 125.55L72.82 128.35L70.02 125.55Z" fill="#000"/>
<path d="M74.83 126.51L77.63 129.31L74.83 132.11L72.03 129.31Z" fill="#000"/>
<path d="M76.84 127.77L79.64 130.57L76.84 133.37L74.04 130.57Z" fill="#000"/>
<path d="M74.83 130.78L77.63 133.58L74.83 136.38L72.03 133.58Z" fill="#000"/>
<path d="M77.84 132.79L80.64 135.59L77.84 138.39L75.04 135.59Z" fill="#000"/>
<path d="M72.82 134.8L75.62 137.6L72.82 140.4L70.02 137.6Z" fill="#000"/>
<path d="M80.35 134.8L83.15 137.6L80.35 140.4L77.55 137.6Z" fill="#000"/>
<path d="M71.06 137.81L73.86 140.61L71.06 143.41L68.26 140.61Z" fill="#000"/>
<path d="M74.83 137.81L77.63 140.61L74.83 143.41L72.03 140.61Z" fill="#000"/>
<path d="M78.59 137.81L81.39 140.61L78.59 143.41L75.79 140.61Z" fill="#000"/>
<path d="M82.11 137.81L84.91 140.61L82.11 143.41L79.31 140.61Z" fill="#000"/>
<path d="M69.05 138.57L71.85 141.37L69.05 144.17L66.25 141.37Z" fill="#000"/>
<path d="M76.58 136.06L79.38 138.86L76.58 141.66L73.78 138.86Z" fill="#000"/>
<path d="M132.33 12.27L135.13 15.07L132.33 17.87L129.53 15.07Z" fill="#000"/>
<path d="M137.6 17.04L140.4 19.84L137.6 22.64L134.8 19.84Z" fill="#000"/>
<path d="M132.33 69.52L135.13 72.32L132.33 75.12L129.53 72.32Z" fill="#000"/>
<path d="M133.08 77.05L135.88 79.85L133.08 82.65L130.28 79.85Z" fill="#000"/>
<path d="M138.6 80.81L141.4 83.61L138.6 86.41L135.8 83.61Z" fill="#000"/>
<path d="M129.31 83.33L132.11 86.13L129.31 88.93L126.51 86.13Z" fill="#000"/>
<path d="M132.33 85.59L135.13 88.39L132.33 91.19L129.53 88.39Z" fill="#000"/>
<path d="M134.34 84.33L137.14 87.13L134.34 89.93L131.54 87.13Z" fill="#000"/>
<path d="M134.84 110.95L137.64 113.75L134.84 116.55L132.04 113.75Z" fill="#000"/>
<path d="M128.56 118.98L131.36 121.78L128.56 124.58L125.76 121.78Z" fill="#000"/>
<path d="M133.08 126.01L135.88 128.81L133.08 131.61L130.28 128.81Z" fill="#000"/>
<path d="M130.07 128.27L132.87 131.07L130.07 133.87L127.27 131.07Z" fill="#000"/>
<path d="M129.31 137.81L132.11 140.61L129.31 143.41L126.51 140.61Z" fill="#000"/>
<path d="M133.08 137.81L135.88 140.61L133.08 143.41L130.28 140.61Z" fill="#000"/>
<path d="M135.84 137.81L138.64 140.61L135.84 143.41L133.04 140.61Z" fill="#000"/>
<path d="M191.08 72.78L193.88 75.58L191.08 78.38L188.28 75.58Z" fill="#000"/>
<path d="M242.31 26.58L245.11 29.38L242.31 32.18L239.51 29.38Z" fill="#000"/>
<path d="M251.6 53.7L254.4 56.5L251.6 59.3L248.8 56.5Z" fill="#000"/>
<path d="M245.82 65.5L248.62 68.3L245.82 71.1L243.02 68.3Z" fill="#000"/>
<path d="M245.82 81.32L248.62 84.12L245.82 86.92L243.02 84.12Z" fill="#000"/>
<path d="M243.56 107.43L246.36 110.23L243.56 113.03L240.76 110.23Z" fill="#000"/>
<path d="M244.06 123.5L246.86 126.3L244.06 129.1L241.26 126.3Z" fill="#000"/>
<path d="M245.82 124.25L248.62 127.05L245.82 129.85L243.02 127.05Z" fill="#000"/>
<path d="M244.06 135.55L246.86 138.35L244.06 141.15L241.26 138.35Z" fill="#000"/>
<path d="M245.82 136.81L248.62 139.61L245.82 142.41L243.02 139.61Z" fill="#000"/>
<path d="M299.81 86.34L302.61 89.14L299.81 91.94L297.01 89.14Z" fill="#000"/>
<path d="M299.81 106.68L302.61 109.48L299.81 112.28L297.01 109.48Z" fill="#000"/>
<path d="M306.34 115.97L309.14 118.77L306.34 121.57L303.54 118.77Z" fill="#000"/>
<path d="M301.31 125.51L304.11 128.31L301.31 131.11L298.51 128.31Z" fill="#000"/>
<path d="M297.55 134.05L300.35 136.85L297.55 139.65L294.75 136.85Z" fill="#000"/>
<path d="M301.31 134.05L304.11 136.85L301.31 139.65L298.51 136.85Z" fill="#000"/>
<path d="M304.33 133.54L307.13 136.34L304.33 139.14L301.53 136.34Z" fill="#000"/>
<path d="M295.04 136.56L297.84 139.36L295.04 142.16L292.24 139.36Z" fill="#000"/>
<path d="M298.8 137.31L301.6 140.11L298.8 142.91L296 140.11Z" fill="#000"/>
<path d="M302.57 136.81L305.37 139.61L302.57 142.41L299.77 139.61Z" fill="#000"/>
<path d="M306.34 137.31L309.14 140.11L306.34 142.91L303.54 140.11Z" fill="#000"/>
<path d="M308.85 137.81L311.65 140.61L308.85 143.41L306.05 140.61Z" fill="#000"/>
<path d="M292.53 137.81L295.33 140.61L292.53 143.41L289.73 140.61Z" fill="#000"/>
<path d="M300.56 138.57L303.36 141.37L300.56 144.17L297.76 141.37Z" fill="#000"/>
<path d="M133 116.3L135.8 119.1L133 121.9L130.2 119.1Z" fill="#000"/>
<path d="M131.6 126.8L134.4 129.6L131.6 132.4L128.8 129.6Z" fill="#000"/>
<path d="M194.76 104.72L197.56 107.52L194.76 110.32L191.96 107.52Z" fill="#000"/>
<path d="M193.01 110.59L195.81 113.39L193.01 116.19L190.21 113.39Z" fill="#000"/>
<path d="M189.77 114.79L192.57 117.59L189.77 120.39L186.97 117.59Z" fill="#000"/>
<path d="M184.52 116.72L187.32 119.52L184.52 122.32L181.72 119.52Z" fill="#000"/>
<path d="M186.27 118.47L189.07 121.27L186.27 124.07L183.47 121.27Z" fill="#000"/>
<path d="M194.59 118.03L197.39 120.83L194.59 123.63L191.79 120.83Z" fill="#000"/>
<path d="M189.77 120.22L192.57 123.02L189.77 125.82L186.97 123.02Z" fill="#000"/>
<path d="M195.9 121.1L198.7 123.9L195.9 126.7L193.1 123.9Z" fill="#000"/>
<path d="M197.65 123.29L200.45 126.09L197.65 128.89L194.85 126.09Z" fill="#000"/>
<path d="M188.02 123.72L190.82 126.52L188.02 129.32L185.22 126.52Z" fill="#000"/>
<path d="M190.65 125.47L193.45 128.27L190.65 131.07L187.85 128.27Z" fill="#000"/>
<path d="M193.27 126.35L196.07 129.15L193.27 131.95L190.47 129.15Z" fill="#000"/>
<path d="M183.2 128.98L186 131.78L183.2 134.58L180.4 131.78Z" fill="#000"/>
<path d="M186.27 128.1L189.07 130.9L186.27 133.7L183.47 130.9Z" fill="#000"/>
<path d="M189.77 129.85L192.57 132.65L189.77 135.45L186.97 132.65Z" fill="#000"/>
<path d="M192.4 130.73L195.2 133.53L192.4 136.33L189.6 133.53Z" fill="#000"/>
<path d="M195.9 132.92L198.7 135.72L195.9 138.52L193.1 135.72Z" fill="#000"/>
<path d="M187.15 133.36L189.95 136.16L187.15 138.96L184.35 136.16Z" fill="#000"/>
<path d="M189.77 135.11L192.57 137.91L189.77 140.71L186.97 137.91Z" fill="#000"/>
<path d="M184.52 135.98L187.32 138.78L184.52 141.58L181.72 138.78Z" fill="#000"/>
<path d="M192.4 135.98L195.2 138.78L192.4 141.58L189.6 138.78Z" fill="#000"/>
<path d="M181.89 138.17L184.69 140.97L181.89 143.77L179.09 140.97Z" fill="#000"/>
<path d="M186.27 138.17L189.07 140.97L186.27 143.77L183.47 140.97Z" fill="#000"/>
<path d="M189.77 138.61L192.57 141.41L189.77 144.21L186.97 141.41Z" fill="#000"/>
<path d="M194.15 138.17L196.95 140.97L194.15 143.77L191.35 140.97Z" fill="#000"/>
<path d="M199.84 137.73L202.64 140.53L199.84 143.33L197.04 140.53Z" fill="#000"/>
<path d="M180.14 139.49L182.94 142.29L180.14 145.09L177.34 142.29Z" fill="#000"/>
<path d="M196.78 135.98L199.58 138.78L196.78 141.58L193.98 138.78Z" fill="#000"/>
<path d="M418.83 55.2L421.63 58L418.83 60.8L416.03 58Z" fill="#000"/>
<path d="M417.07 69.52L419.87 72.32L417.07 75.12L414.27 72.32Z" fill="#000"/>
<path d="M418.83 84.58L421.63 87.38L418.83 90.18L416.03 87.38Z" fill="#000"/>
<path d="M422.59 86.09L425.39 88.89L422.59 91.69L419.79 88.89Z" fill="#000"/>
<path d="M416.57 92.11L419.37 94.91L416.57 97.71L413.77 94.91Z" fill="#000"/>
<path d="M419.83 100.15L422.63 102.95L419.83 105.75L417.03 102.95Z" fill="#000"/>
<path d="M418.32 104.67L421.12 107.47L418.32 110.27L415.52 107.47Z" fill="#000"/>
<path d="M420.84 106.18L423.64 108.98L420.84 111.78L418.04 108.98Z" fill="#000"/>
<path d="M415.56 109.44L418.36 112.24L415.56 115.04L412.76 112.24Z" fill="#000"/>
<path d="M417.82 110.69L420.62 113.49L417.82 116.29L415.02 113.49Z" fill="#000"/>
<path d="M421.34 112.7L424.14 115.5L421.34 118.3L418.54 115.5Z" fill="#000"/>
<path d="M411.29 115.21L414.09 118.01L411.29 120.81L408.49 118.01Z" fill="#000"/>
<path d="M413.55 116.72L416.35 119.52L413.55 122.32L410.75 119.52Z" fill="#000"/>
<path d="M416.06 117.73L418.86 120.53L416.06 123.33L413.26 120.53Z" fill="#000"/>
<path d="M423.85 118.48L426.65 121.28L423.85 124.08L421.05 121.28Z" fill="#000"/>
<path d="M413.05 121.24L415.85 124.04L413.05 126.84L410.25 124.04Z" fill="#000"/>
<path d="M415.56 121.99L418.36 124.79L415.56 127.59L412.76 124.79Z" fill="#000"/>
<path d="M415.06 125.26L417.86 128.06L415.06 130.86L412.26 128.06Z" fill="#000"/>
<path d="M417.07 126.76L419.87 129.56L417.07 132.36L414.27 129.56Z" fill="#000"/>
<path d="M420.33 128.77L423.13 131.57L420.33 134.37L417.53 131.57Z" fill="#000"/>
<path d="M423.35 130.03L426.15 132.83L423.35 135.63L420.55 132.83Z" fill="#000"/>
<path d="M418.83 133.04L421.63 135.84L418.83 138.64L416.03 135.84Z" fill="#000"/>
<path d="M474.07 8.75L476.87 11.55L474.07 14.35L471.27 11.55Z" fill="#000"/>
<path d="M481.6 26.33L484.4 29.13L481.6 31.93L478.8 29.13Z" fill="#000"/>
<path d="M474.82 31.1L477.62 33.9L474.82 36.7L472.02 33.9Z" fill="#000"/>
<path d="M480.09 44.66L482.89 47.46L480.09 50.26L477.29 47.46Z" fill="#000"/>
<path d="M475.32 64.49L478.12 67.29L475.32 70.09L472.52 67.29Z" fill="#000"/>
<path d="M470.8 71.52L473.6 74.32L470.8 77.12L468 74.32Z" fill="#000"/>
<path d="M476.83 80.31L479.63 83.11L476.83 85.91L474.03 83.11Z" fill="#000"/>
<path d="M474.07 85.08L476.87 87.88L474.07 90.68L471.27 87.88Z" fill="#000"/>
<path d="M476.33 88.1L479.13 90.9L476.33 93.7L473.53 90.9Z" fill="#000"/>
<path d="M472.56 92.87L475.36 95.67L472.56 98.47L469.76 95.67Z" fill="#000"/>
<path d="M470.3 99.65L473.1 102.45L470.3 105.25L467.5 102.45Z" fill="#000"/>
<path d="M472.56 103.41L475.36 106.21L472.56 109.01L469.76 106.21Z" fill="#000"/>
<path d="M474.82 109.69L477.62 112.49L474.82 115.29L472.02 112.49Z" fill="#000"/>
<path d="M473.31 113.21L476.11 116.01L473.31 118.81L470.51 116.01Z" fill="#000"/>
<path d="M472.06 115.72L474.86 118.52L472.06 121.32L469.26 118.52Z" fill="#000"/>
<path d="M475.32 117.73L478.12 120.53L475.32 123.33L472.52 120.53Z" fill="#000"/>
<path d="M472.56 120.24L475.36 123.04L472.56 125.84L469.76 123.04Z" fill="#000"/>
<path d="M478.59 126.51L481.39 129.31L478.59 132.11L475.79 129.31Z" fill="#000"/>
<path d="M535.1 16.03L537.9 18.83L535.1 21.63L532.3 18.83Z" fill="#000"/>
<path d="M533.09 30.6L535.89 33.4L533.09 36.2L530.29 33.4Z" fill="#000"/>
<path d="M536.35 35.12L539.15 37.92L536.35 40.72L533.55 37.92Z" fill="#000"/>
<path d="M538.86 41.64L541.66 44.44L538.86 47.24L536.06 44.44Z" fill="#000"/>
<path d="M536.35 43.9L539.15 46.7L536.35 49.5L533.55 46.7Z" fill="#000"/>
<path d="M536.1 50.43L538.9 53.23L536.1 56.03L533.3 53.23Z" fill="#000"/>
<path d="M534.34 54.95L537.14 57.75L534.34 60.55L531.54 57.75Z" fill="#000"/>
<path d="M531.83 60.48L534.63 63.28L531.83 66.08L529.03 63.28Z" fill="#000"/>
<path d="M529.32 62.99L532.12 65.79L529.32 68.59L526.52 65.79Z" fill="#000"/>
<path d="M530.58 64.49L533.38 67.29L530.58 70.09L527.78 67.29Z" fill="#000"/>
<path d="M531.33 77.05L534.13 79.85L531.33 82.65L528.53 79.85Z" fill="#000"/>
<path d="M532.33 79.56L535.13 82.36L532.33 85.16L529.53 82.36Z" fill="#000"/>
<path d="M530.58 83.83L533.38 86.63L530.58 89.43L527.78 86.63Z" fill="#000"/>
<path d="M530.07 88.1L532.87 90.9L530.07 93.7L527.27 90.9Z" fill="#000"/>
<path d="M531.08 92.11L533.88 94.91L531.08 97.71L528.28 94.91Z" fill="#000"/>
<path d="M534.34 93.87L537.14 96.67L534.34 99.47L531.54 96.67Z" fill="#000"/>
<path d="M525.55 97.14L528.35 99.94L525.55 102.74L522.75 99.94Z" fill="#000"/>
<path d="M536.85 98.89L539.65 101.69L536.85 104.49L534.05 101.69Z" fill="#000"/>
<path d="M531.08 99.65L533.88 102.45L531.08 105.25L528.28 102.45Z" fill="#000"/>
<path d="M530.58 106.43L533.38 109.23L530.58 112.03L527.78 109.23Z" fill="#000"/>
<path d="M533.09 108.94L535.89 111.74L533.09 114.54L530.29 111.74Z" fill="#000"/>
<path d="M528.07 111.45L530.87 114.25L528.07 117.05L525.27 114.25Z" fill="#000"/>
<path d="M535.6 112.7L538.4 115.5L535.6 118.3L532.8 115.5Z" fill="#000"/>
<path d="M531.08 114.71L533.88 117.51L531.08 120.31L528.28 117.51Z" fill="#000"/>
<path d="M533.09 117.22L535.89 120.02L533.09 122.82L530.29 120.02Z" fill="#000"/>
<path d="M536.85 118.98L539.65 121.78L536.85 124.58L534.05 121.78Z" fill="#000"/>
<path d="M529.32 119.73L532.12 122.53L529.32 125.33L526.52 122.53Z" fill="#000"/>
<path d="M531.83 121.49L534.63 124.29L531.83 127.09L529.03 124.29Z" fill="#000"/>
<path d="M538.11 122.75L540.91 125.55L538.11 128.35L535.31 125.55Z" fill="#000"/>
<path d="M530.58 124.76L533.38 127.56L530.58 130.36L527.78 127.56Z" fill="#000"/>
<path d="M542.63 125.26L545.43 128.06L542.63 130.86L539.83 128.06Z" fill="#000"/>
<path d="M530.07 127.77L532.87 130.57L530.07 133.37L527.27 130.57Z" fill="#000"/>
<path d="M524.3 130.28L527.1 133.08L524.3 135.88L521.5 133.08Z" fill="#000"/>
<path d="M588.33 83.58L591.13 86.38L588.33 89.18L585.53 86.38Z" fill="#000"/>
<path d="M592.09 98.39L594.89 101.19L592.09 103.99L589.29 101.19Z" fill="#000"/>
<path d="M585.82 110.19L588.62 112.99L585.82 115.79L583.02 112.99Z" fill="#000"/>
<path d="M593.35 109.44L596.15 112.24L593.35 115.04L590.55 112.24Z" fill="#000"/>
<path d="M587.07 122.25L589.87 125.05L587.07 127.85L584.27 125.05Z" fill="#000"/>
<path d="M582.8 124.76L585.6 127.56L582.8 130.36L580 127.56Z" fill="#000"/>
<path d="M651.1 81.07L653.9 83.87L651.1 86.67L648.3 83.87Z" fill="#000"/>
<path d="M649.85 83.83L652.65 86.63L649.85 89.43L647.05 86.63Z" fill="#000"/>
<path d="M648.09 86.34L650.89 89.14L648.09 91.94L645.29 89.14Z" fill="#000"/>
<path d="M645.58 88.85L648.38 91.65L645.58 94.45L642.78 91.65Z" fill="#000"/>
<path d="M643.57 90.86L646.37 93.66L643.57 96.46L640.77 93.66Z" fill="#000"/>
<path d="M642.82 98.39L645.62 101.19L642.82 103.99L640.02 101.19Z" fill="#000"/>
<path d="M646.08 100.9L648.88 103.7L646.08 106.5L643.28 103.7Z" fill="#000"/>
<path d="M643.07 106.93L645.87 109.73L643.07 112.53L640.27 109.73Z" fill="#000"/>
<path d="M643.57 114.46L646.37 117.26L643.57 120.06L640.77 117.26Z" fill="#000"/>
<path d="M649.34 115.47L652.14 118.27L649.34 121.07L646.54 118.27Z" fill="#000"/>
<path d="M643.57 121.99L646.37 124.79L643.57 127.59L640.77 124.79Z" fill="#000"/>
<path d="M646.08 125.26L648.88 128.06L646.08 130.86L643.28 128.06Z" fill="#000"/>
<path d="M649.85 126.51L652.65 129.31L649.85 132.11L647.05 129.31Z" fill="#000"/>
<path d="M643.57 127.77L646.37 130.57L643.57 133.37L640.77 130.57Z" fill="#000"/>
<path d="M645.58 129.78L648.38 132.58L645.58 135.38L642.78 132.58Z" fill="#000"/>
<path d="M639.8 132.29L642.6 135.09L639.8 137.89L637 135.09Z" fill="#000"/>
<path d="M643.57 134.05L646.37 136.85L643.57 139.65L640.77 136.85Z" fill="#000"/>
<path d="M646.08 135.3L648.88 138.1L646.08 140.9L643.28 138.1Z" fill="#000"/>
<path d="M533 57.2L535.8 60L533 62.8L530.2 60Z" fill="#000"/>
<path d="M528 61.6L530.8 64.4L528 67.2L525.2 64.4Z" fill="#000"/>
<path d="M529.04 80.63L531.84 83.43L529.04 86.23L526.24 83.43Z" fill="#000"/>
<path d="M532.87 80.87L535.67 83.67L532.87 86.47L530.07 83.67Z" fill="#000"/>
<path d="M529.04 90.49L531.84 93.29L529.04 96.09L526.24 93.29Z" fill="#000"/>
<path d="M534.1 94.44L536.9 97.24L534.1 100.04L531.3 97.24Z" fill="#000"/>
<path d="M534.59 115.77L537.39 118.57L534.59 121.37L531.79 118.57Z" fill="#000"/>
<path d="M537.8 118.36L540.6 121.16L537.8 123.96L535 121.16Z" fill="#000"/>
<path d="M529.04 120.7L531.84 123.5L529.04 126.3L526.24 123.5Z" fill="#000"/>
<path d="M534.59 121.32L537.39 124.12L534.59 126.92L531.79 124.12Z" fill="#000"/>
<path d="M529.66 124.4L532.46 127.2L529.66 130L526.86 127.2Z" fill="#000"/>
<path d="M532.87 123.78L535.67 126.58L532.87 129.38L530.07 126.58Z" fill="#000"/>
<path d="M531.14 86.55L533.94 89.35L531.14 92.15L528.34 89.35Z" fill="#000"/>
<path d="M527.81 112.07L530.61 114.87L527.81 117.67L525.01 114.87Z" fill="#000"/>
<path d="M102.45 172.27L105.25 175.07L102.45 177.87L99.65 175.07Z" fill="#000"/>
<path d="M104.96 173.27L107.76 176.07L104.96 178.87L102.16 176.07Z" fill="#000"/>
<path d="M84.62 200.89L87.42 203.69L84.62 206.49L81.82 203.69Z" fill="#000"/>
<path d="M93.16 203.65L95.96 206.45L93.16 209.25L90.36 206.45Z" fill="#000"/>
<path d="M92.91 214.95L95.71 217.75L92.91 220.55L90.11 217.75Z" fill="#000"/>
<path d="M96.17 216.96L98.97 219.76L96.17 222.56L93.37 219.76Z" fill="#000"/>
<path d="M82.36 222.23L85.16 225.03L82.36 227.83L79.56 225.03Z" fill="#000"/>
<path d="M87.38 224.24L90.18 227.04L87.38 229.84L84.58 227.04Z" fill="#000"/>
<path d="M95.92 224.74L98.72 227.54L95.92 230.34L93.12 227.54Z" fill="#000"/>
<path d="M86.63 238.05L89.43 240.85L86.63 243.65L83.83 240.85Z" fill="#000"/>
<path d="M89.89 237.55L92.69 240.35L89.89 243.15L87.09 240.35Z" fill="#000"/>
<path d="M92.91 237.05L95.71 239.85L92.91 242.65L90.11 239.85Z" fill="#000"/>
<path d="M95.92 236.55L98.72 239.35L95.92 242.15L93.12 239.35Z" fill="#000"/>
<path d="M87.88 240.81L90.68 243.61L87.88 246.41L85.08 243.61Z" fill="#000"/>
<path d="M91.65 242.07L94.45 244.87L91.65 247.67L88.85 244.87Z" fill="#000"/>
<path d="M99.18 242.57L101.98 245.37L99.18 248.17L96.38 245.37Z" fill="#000"/>
<path d="M95.42 245.59L98.22 248.39L95.42 251.19L92.62 248.39Z" fill="#000"/>
<path d="M92.4 251.61L95.2 254.41L92.4 257.21L89.6 254.41Z" fill="#000"/>
<path d="M99.94 252.36L102.74 255.16L99.94 257.96L97.14 255.16Z" fill="#000"/>
<path d="M89.89 263.16L92.69 265.96L89.89 268.76L87.09 265.96Z" fill="#000"/>
<path d="M97.42 264.67L100.22 267.47L97.42 270.27L94.62 267.47Z" fill="#000"/>
<path d="M100.44 264.17L103.24 266.97L100.44 269.77L97.64 266.97Z" fill="#000"/>
<path d="M95.67 268.18L98.47 270.98L95.67 273.78L92.87 270.98Z" fill="#000"/>
<path d="M90.39 279.99L93.19 282.79L90.39 285.59L87.59 282.79Z" fill="#000"/>
<path d="M87.13 283.5L89.93 286.3L87.13 289.1L84.33 286.3Z" fill="#000"/>
<path d="M103.7 285.51L106.5 288.31L103.7 291.11L100.9 288.31Z" fill="#000"/>
<path d="M182.55 288.27L185.35 291.07L182.55 293.87L179.75 291.07Z" fill="#000"/>
<path d="M189.07 289.78L191.87 292.58L189.07 295.38L186.27 292.58Z" fill="#000"/>
<path d="M187.82 292.79L190.62 295.59L187.82 298.39L185.02 295.59Z" fill="#000"/>
<path d="M197.86 292.29L200.66 295.09L197.86 297.89L195.06 295.09Z" fill="#000"/>
<path d="M200.12 296.56L202.92 299.36L200.12 302.16L197.32 299.36Z" fill="#000"/>
<path d="M191.59 296.56L194.39 299.36L191.59 302.16L188.79 299.36Z" fill="#000"/>
<path d="M189.58 299.07L192.38 301.87L189.58 304.67L186.78 301.87Z" fill="#000"/>
<path d="M187.07 299.82L189.87 302.62L187.07 305.42L184.27 302.62Z" fill="#000"/>
<path d="M192.09 299.82L194.89 302.62L192.09 305.42L189.29 302.62Z" fill="#000"/>
<path d="M182.04 300.32L184.84 303.12L182.04 305.92L179.24 303.12Z" fill="#000"/>
<path d="M194.6 300.83L197.4 303.63L194.6 306.43L191.8 303.63Z" fill="#000"/>
<path d="M184.55 301.58L187.35 304.38L184.55 307.18L181.75 304.38Z" fill="#000"/>
<path d="M293.78 238.3L296.58 241.1L293.78 243.9L290.98 241.1Z" fill="#000"/>
<path d="M282.48 250.61L285.28 253.41L282.48 256.21L279.68 253.41Z" fill="#000"/>
<path d="M301.06 253.12L303.86 255.92L301.06 258.72L298.26 255.92Z" fill="#000"/>
<path d="M287.75 262.16L290.55 264.96L287.75 267.76L284.95 264.96Z" fill="#000"/>
<path d="M281.98 272.95L284.78 275.75L281.98 278.55L279.18 275.75Z" fill="#000"/>
<path d="M286.25 272.95L289.05 275.75L286.25 278.55L283.45 275.75Z" fill="#000"/>
<path d="M438.16 270.69L440.96 273.49L438.16 276.29L435.36 273.49Z" fill="#000"/>
<path d="M446.7 273.21L449.5 276.01L446.7 278.81L443.9 276.01Z" fill="#000"/>
<path d="M433.89 277.73L436.69 280.53L433.89 283.33L431.09 280.53Z" fill="#000"/>
<path d="M429.37 285.26L432.17 288.06L429.37 290.86L426.57 288.06Z" fill="#000"/>
<path d="M432.39 287.27L435.19 290.07L432.39 292.87L429.59 290.07Z" fill="#000"/>
<path d="M435.65 287.77L438.45 290.57L435.65 293.37L432.85 290.57Z" fill="#000"/>
<path d="M438.91 288.27L441.71 291.07L438.91 293.87L436.11 291.07Z" fill="#000"/>
<path d="M426.86 291.54L429.66 294.34L426.86 297.14L424.06 294.34Z" fill="#000"/>
<path d="M430.63 291.03L433.43 293.83L430.63 296.63L427.83 293.83Z" fill="#000"/>
<path d="M434.39 290.28L437.19 293.08L434.39 295.88L431.59 293.08Z" fill="#000"/>
<path d="M437.41 291.54L440.21 294.34L437.41 297.14L434.61 294.34Z" fill="#000"/>
<path d="M440.67 292.29L443.47 295.09L440.67 297.89L437.87 295.09Z" fill="#000"/>
<path d="M445.69 290.28L448.49 293.08L445.69 295.88L442.89 293.08Z" fill="#000"/>
<path d="M429.37 294.8L432.17 297.6L429.37 300.4L426.57 297.6Z" fill="#000"/>
<path d="M433.14 294.05L435.94 296.85L433.14 299.65L430.34 296.85Z" fill="#000"/>
<path d="M436.4 294.8L439.2 297.6L436.4 300.4L433.6 297.6Z" fill="#000"/>
<path d="M439.42 295.3L442.22 298.1L439.42 300.9L436.62 298.1Z" fill="#000"/>
<path d="M443.18 294.05L445.98 296.85L443.18 299.65L440.38 296.85Z" fill="#000"/>
<path d="M431.88 297.31L434.68 300.11L431.88 302.91L429.08 300.11Z" fill="#000"/>
<path d="M435.65 297.81L438.45 300.61L435.65 303.41L432.85 300.61Z" fill="#000"/>
<path d="M438.91 297.31L441.71 300.11L438.91 302.91L436.11 300.11Z" fill="#000"/>
<path d="M441.93 296.56L444.73 299.36L441.93 302.16L439.13 299.36Z" fill="#000"/>
<path d="M424.35 299.07L427.15 301.87L424.35 304.67L421.55 301.87Z" fill="#000"/>
<path d="M429.37 297.81L432.17 300.61L429.37 303.41L426.57 300.61Z" fill="#000"/>
<path d="M434.39 299.32L437.19 302.12L434.39 304.92L431.59 302.12Z" fill="#000"/>
<path d="M527.31 279.99L530.11 282.79L527.31 285.59L524.51 282.79Z" fill="#000"/>
<path d="M533.59 290.28L536.39 293.08L533.59 295.88L530.79 293.08Z" fill="#000"/>
<path d="M530.58 292.79L533.38 295.59L530.58 298.39L527.78 295.59Z" fill="#000"/>
<path d="M535.1 292.79L537.9 295.59L535.1 298.39L532.3 295.59Z" fill="#000"/>
<path d="M528.57 294.8L531.37 297.6L528.57 300.4L525.77 297.6Z" fill="#000"/>
<path d="M532.59 294.8L535.39 297.6L532.59 300.4L529.79 297.6Z" fill="#000"/>
<path d="M536.85 294.8L539.65 297.6L536.85 300.4L534.05 297.6Z" fill="#000"/>
<path d="M521.79 297.31L524.59 300.11L521.79 302.91L518.99 300.11Z" fill="#000"/>
<path d="M528.07 297.31L530.87 300.11L528.07 302.91L525.27 300.11Z" fill="#000"/>
<path d="M531.08 296.81L533.88 299.61L531.08 302.41L528.28 299.61Z" fill="#000"/>
<path d="M534.34 297.31L537.14 300.11L534.34 302.91L531.54 300.11Z" fill="#000"/>
<path d="M538.11 297.81L540.91 300.61L538.11 303.41L535.31 300.61Z" fill="#000"/>
<path d="M542.63 297.31L545.43 300.11L542.63 302.91L539.83 300.11Z" fill="#000"/>
<path d="M536.1 299.32L538.9 302.12L536.1 304.92L533.3 302.12Z" fill="#000"/>
<path d="M538.11 300.32L540.91 303.12L538.11 305.92L535.31 303.12Z" fill="#000"/>
<path d="M622.23 176.53L625.03 179.33L622.23 182.13L619.43 179.33Z" fill="#000"/>
<path d="M625.24 188.08L628.04 190.88L625.24 193.68L622.44 190.88Z" fill="#000"/>
<path d="M628.75 207.92L631.55 210.72L628.75 213.52L625.95 210.72Z" fill="#000"/>
<path d="M626.49 217.96L629.29 220.76L626.49 223.56L623.69 220.76Z" fill="#000"/>
<path d="M631.77 220.73L634.57 223.53L631.77 226.33L628.97 223.53Z" fill="#000"/>
<path d="M635.03 220.73L637.83 223.53L635.03 226.33L632.23 223.53Z" fill="#000"/>
<path d="M623.48 230.52L626.28 233.32L623.48 236.12L620.68 233.32Z" fill="#000"/>
<path d="M633.78 238.05L636.58 240.85L633.78 243.65L630.98 240.85Z" fill="#000"/>
<path d="M636.29 239.31L639.09 242.11L636.29 244.91L633.49 242.11Z" fill="#000"/>
<path d="M95.42 431.95L98.22 434.75L95.42 437.55L92.62 434.75Z" fill="#000"/>
<path d="M95.92 444.76L98.72 447.56L95.92 450.36L93.12 447.56Z" fill="#000"/>
<path d="M92.91 451.54L95.71 454.34L92.91 457.14L90.11 454.34Z" fill="#000"/>
<path d="M94.91 452.79L97.71 455.59L94.91 458.39L92.11 455.59Z" fill="#000"/>
<path d="M100.44 452.29L103.24 455.09L100.44 457.89L97.64 455.09Z" fill="#000"/>
<path d="M102.95 454.8L105.75 457.6L102.95 460.4L100.15 457.6Z" fill="#000"/>
<path d="M91.65 454.8L94.45 457.6L91.65 460.4L88.85 457.6Z" fill="#000"/>
<path d="M96.67 455.8L99.47 458.6L96.67 461.4L93.87 458.6Z" fill="#000"/>
<path d="M99.18 457.81L101.98 460.61L99.18 463.41L96.38 460.61Z" fill="#000"/>
<path d="M89.14 459.07L91.94 461.87L89.14 464.67L86.34 461.87Z" fill="#000"/>
<path d="M92.91 458.32L95.71 461.12L92.91 463.92L90.11 461.12Z" fill="#000"/>
<path d="M95.42 460.32L98.22 463.12L95.42 465.92L92.62 463.12Z" fill="#000"/>
<path d="M100.44 460.83L103.24 463.63L100.44 466.43L97.64 463.63Z" fill="#000"/>
<path d="M86.63 461.58L89.43 464.38L86.63 467.18L83.83 464.38Z" fill="#000"/>
<path d="M90.39 462.33L93.19 465.13L90.39 467.93L87.59 465.13Z" fill="#000"/>
<path d="M94.16 462.84L96.96 465.64L94.16 468.44L91.36 465.64Z" fill="#000"/>
<path d="M97.93 462.84L100.73 465.64L97.93 468.44L95.13 465.64Z" fill="#000"/>
<path d="M102.95 462.33L105.75 465.13L102.95 467.93L100.15 465.13Z" fill="#000"/>
<path d="M84.12 462.84L86.92 465.64L84.12 468.44L81.32 465.64Z" fill="#000"/>
<path d="M105.46 463.34L108.26 466.14L105.46 468.94L102.66 466.14Z" fill="#000"/>
<path d="M82.86 463.59L85.66 466.39L82.86 469.19L80.06 466.39Z" fill="#000"/>
<path d="M187.82 437.22L190.62 440.02L187.82 442.82L185.02 440.02Z" fill="#000"/>
<path d="M189.07 440.74L191.87 443.54L189.07 446.34L186.27 443.54Z" fill="#000"/>
<path d="M188.32 447.77L191.12 450.57L188.32 453.37L185.52 450.57Z" fill="#000"/>
<path d="M197.86 446.26L200.66 449.06L197.86 451.86L195.06 449.06Z" fill="#000"/>
<path d="M200.12 451.54L202.92 454.34L200.12 457.14L197.32 454.34Z" fill="#000"/>
<path d="M182.55 453.29L185.35 456.09L182.55 458.89L179.75 456.09Z" fill="#000"/>
<path d="M189.58 455.3L192.38 458.1L189.58 460.9L186.78 458.1Z" fill="#000"/>
<path d="M187.57 457.81L190.37 460.61L187.57 463.41L184.77 460.61Z" fill="#000"/>
<path d="M191.59 460.83L194.39 463.63L191.59 466.43L188.79 463.63Z" fill="#000"/>
<path d="M184.55 462.33L187.35 465.13L184.55 467.93L181.75 465.13Z" fill="#000"/>
<path d="M189.07 463.34L191.87 466.14L189.07 468.94L186.27 466.14Z" fill="#000"/>
<path d="M193.34 463.34L196.14 466.14L193.34 468.94L190.54 466.14Z" fill="#000"/>
<path d="M182.04 464.09L184.84 466.89L182.04 469.69L179.24 466.89Z" fill="#000"/>
<path d="M281.48 337.29L284.28 340.09L281.48 342.89L278.68 340.09Z" fill="#000"/>
<path d="M301.06 398.3L303.86 401.1L301.06 403.9L298.26 401.1Z" fill="#000"/>
<path d="M287.75 402.82L290.55 405.62L287.75 408.42L284.95 405.62Z" fill="#000"/>
<path d="M426.11 406.34L428.91 409.14L426.11 411.94L423.31 409.14Z" fill="#000"/>
<path d="M423.85 411.36L426.65 414.16L423.85 416.96L421.05 414.16Z" fill="#000"/>
<path d="M420.58 413.87L423.38 416.67L420.58 419.47L417.78 416.67Z" fill="#000"/>
<path d="M425.61 413.37L428.41 416.17L425.61 418.97L422.81 416.17Z" fill="#000"/>
<path d="M416.82 415.13L419.62 417.93L416.82 420.73L414.02 417.93Z" fill="#000"/>
<path d="M422.34 415.88L425.14 418.68L422.34 421.48L419.54 418.68Z" fill="#000"/>
<path d="M428.12 415.63L430.92 418.43L428.12 421.23L425.32 418.43Z" fill="#000"/>
<path d="M419.33 417.64L422.13 420.44L419.33 423.24L416.53 420.44Z" fill="#000"/>
<path d="M424.35 418.14L427.15 420.94L424.35 423.74L421.55 420.94Z" fill="#000"/>
<path d="M429.37 418.89L432.17 421.69L429.37 424.49L426.57 421.69Z" fill="#000"/>
<path d="M421.84 420.15L424.64 422.95L421.84 425.75L419.04 422.95Z" fill="#000"/>
<path d="M426.86 420.65L429.66 423.45L426.86 426.25L424.06 423.45Z" fill="#000"/>
<path d="M431.38 421.4L434.18 424.2L431.38 427L428.58 424.2Z" fill="#000"/>
<path d="M418.07 422.16L420.87 424.96L418.07 427.76L415.27 424.96Z" fill="#000"/>
<path d="M423.09 422.66L425.89 425.46L423.09 428.26L420.29 425.46Z" fill="#000"/>
<path d="M428.12 423.16L430.92 425.96L428.12 428.76L425.32 425.96Z" fill="#000"/>
<path d="M431.88 424.67L434.68 427.47L431.88 430.27L429.08 427.47Z" fill="#000"/>
<path d="M419.33 424.67L422.13 427.47L419.33 430.27L416.53 427.47Z" fill="#000"/>
<path d="M424.35 425.17L427.15 427.97L424.35 430.77L421.55 427.97Z" fill="#000"/>
<path d="M421.84 426.43L424.64 429.23L421.84 432.03L419.04 429.23Z" fill="#000"/>
<path d="M430.63 425.67L433.43 428.47L430.63 431.27L427.83 428.47Z" fill="#000"/>
<path d="M503.95 373.19L506.75 375.99L503.95 378.79L501.15 375.99Z" fill="#000"/>
<path d="M495.41 400.06L498.21 402.86L495.41 405.66L492.61 402.86Z" fill="#000"/>
<path d="M492.15 403.83L494.95 406.63L492.15 409.43L489.35 406.63Z" fill="#000"/>
<path d="M492.9 419.65L495.7 422.45L492.9 425.25L490.1 422.45Z" fill="#000"/>
<path d="M496.67 423.92L499.47 426.72L496.67 429.52L493.87 426.72Z" fill="#000"/>
<path d="M500.43 423.92L503.23 426.72L500.43 429.52L497.63 426.72Z" fill="#000"/>
<path d="M496.67 430.95L499.47 433.75L496.67 436.55L493.87 433.75Z" fill="#000"/>
<path d="M496.67 438.23L499.47 441.03L496.67 443.83L493.87 441.03Z" fill="#000"/>
<path d="M497.67 444.76L500.47 447.56L497.67 450.36L494.87 447.56Z" fill="#000"/>
<path d="M495.41 447.02L498.21 449.82L495.41 452.62L492.61 449.82Z" fill="#000"/>
<path d="M496.67 449.02L499.47 451.82L496.67 454.62L493.87 451.82Z" fill="#000"/>
<path d="M492.9 452.04L495.7 454.84L492.9 457.64L490.1 454.84Z" fill="#000"/>
<path d="M497.92 460.83L500.72 463.63L497.92 466.43L495.12 463.63Z" fill="#000"/>
<path d="M570 336.53L572.8 339.33L570 342.13L567.2 339.33Z" fill="#000"/>
<path d="M568.74 349.09L571.54 351.89L568.74 354.69L565.94 351.89Z" fill="#000"/>
<path d="M558.2 355.62L561 358.42L558.2 361.22L555.4 358.42Z" fill="#000"/>
<path d="M564.98 354.36L567.78 357.16L564.98 359.96L562.18 357.16Z" fill="#000"/>
<path d="M570 357.38L572.8 360.18L570 362.98L567.2 360.18Z" fill="#000"/>
<path d="M571.25 361.14L574.05 363.94L571.25 366.74L568.45 363.94Z" fill="#000"/>
<path d="M567.74 362.4L570.54 365.2L567.74 368L564.94 365.2Z" fill="#000"/>
<path d="M573.26 363.65L576.06 366.45L573.26 369.25L570.46 366.45Z" fill="#000"/>
<path d="M565.73 364.91L568.53 367.71L565.73 370.51L562.93 367.71Z" fill="#000"/>
<path d="M569.5 365.41L572.3 368.21L569.5 371.01L566.7 368.21Z" fill="#000"/>
<path d="M572.76 366.16L575.56 368.96L572.76 371.76L569.96 368.96Z" fill="#000"/>
<path d="M563.22 366.92L566.02 369.72L563.22 372.52L560.42 369.72Z" fill="#000"/>
<path d="M566.99 367.92L569.79 370.72L566.99 373.52L564.19 370.72Z" fill="#000"/>
<path d="M570.25 368.67L573.05 371.47L570.25 374.27L567.45 371.47Z" fill="#000"/>
<path d="M574.52 368.67L577.32 371.47L574.52 374.27L571.72 371.47Z" fill="#000"/>
<path d="M580.29 368.17L583.09 370.97L580.29 373.77L577.49 370.97Z" fill="#000"/>
<path d="M560.71 369.43L563.51 372.23L560.71 375.03L557.91 372.23Z" fill="#000"/>
<path d="M564.47 369.93L567.27 372.73L564.47 375.53L561.67 372.73Z" fill="#000"/>
<path d="M568.24 370.43L571.04 373.23L568.24 376.03L565.44 373.23Z" fill="#000"/>
<path d="M572.01 371.19L574.81 373.99L572.01 376.79L569.21 373.99Z" fill="#000"/>
<path d="M561.96 371.94L564.76 374.74L561.96 377.54L559.16 374.74Z" fill="#000"/>
<path d="M565.73 372.94L568.53 375.74L565.73 378.54L562.93 375.74Z" fill="#000"/>
<path d="M569.5 373.7L572.3 376.5L569.5 379.3L566.7 376.5Z" fill="#000"/>
<path d="M573.26 374.45L576.06 377.25L573.26 380.05L570.46 377.25Z" fill="#000"/>
<path d="M559.45 376.21L562.25 379.01L559.45 381.81L556.65 379.01Z" fill="#000"/>
<path d="M563.22 376.96L566.02 379.76L563.22 382.56L560.42 379.76Z" fill="#000"/>
<path d="M572.01 376.96L574.81 379.76L572.01 382.56L569.21 379.76Z" fill="#000"/>
<path d="M570.75 379.97L573.55 382.77L570.75 385.57L567.95 382.77Z" fill="#000"/>
<path d="M636.04 384.49L638.84 387.29L636.04 390.09L633.24 387.29Z" fill="#000"/>
<path d="M638.55 385L641.35 387.8L638.55 390.6L635.75 387.8Z" fill="#000"/>
<path d="M642.82 394.04L645.62 396.84L642.82 399.64L640.02 396.84Z" fill="#000"/>
<path d="M634.28 400.06L637.08 402.86L634.28 405.66L631.48 402.86Z" fill="#000"/>
<path d="M637.79 403.83L640.59 406.63L637.79 409.43L634.99 406.63Z" fill="#000"/>
<path d="M636.79 407.09L639.59 409.89L636.79 412.69L633.99 409.89Z" fill="#000"/>
<path d="M636.79 409.6L639.59 412.4L636.79 415.2L633.99 412.4Z" fill="#000"/>
<path d="M632.77 412.62L635.57 415.42L632.77 418.22L629.97 415.42Z" fill="#000"/>
<path d="M634.28 418.39L637.08 421.19L634.28 423.99L631.48 421.19Z" fill="#000"/>
<path d="M637.79 418.89L640.59 421.69L637.79 424.49L634.99 421.69Z" fill="#000"/>
<path d="M642.31 418.14L645.11 420.94L642.31 423.74L639.51 420.94Z" fill="#000"/>
<path d="M635.28 429.44L638.08 432.24L635.28 435.04L632.48 432.24Z" fill="#000"/>
<path d="M631.01 432.7L633.81 435.5L631.01 438.3L628.21 435.5Z" fill="#000"/>
<path d="M634.78 432.7L637.58 435.5L634.78 438.3L631.98 435.5Z" fill="#000"/>
<path d="M644.82 431.45L647.62 434.25L644.82 437.05L642.02 434.25Z" fill="#000"/>
<path d="M77.84 497.01L80.64 499.81L77.84 502.61L75.04 499.81Z" fill="#000"/>
<path d="M83.61 524.63L86.41 527.43L83.61 530.23L80.81 527.43Z" fill="#000"/>
<path d="M81.61 530.91L84.41 533.71L81.61 536.51L78.81 533.71Z" fill="#000"/>
<path d="M75.33 535.43L78.13 538.23L75.33 541.03L72.53 538.23Z" fill="#000"/>
<path d="M84.12 535.93L86.92 538.73L84.12 541.53L81.32 538.73Z" fill="#000"/>
<path d="M90.39 540.95L93.19 543.75L90.39 546.55L87.59 543.75Z" fill="#000"/>
<path d="M74.07 543.96L76.87 546.76L74.07 549.56L71.27 546.76Z" fill="#000"/>
<path d="M77.84 543.96L80.64 546.76L77.84 549.56L75.04 546.76Z" fill="#000"/>
<path d="M81.61 543.96L84.41 546.76L81.61 549.56L78.81 546.76Z" fill="#000"/>
<path d="M86.13 547.23L88.93 550.03L86.13 552.83L83.33 550.03Z" fill="#000"/>
<path d="M81.61 551.5L84.41 554.3L81.61 557.1L78.81 554.3Z" fill="#000"/>
<path d="M88.64 553L91.44 555.8L88.64 558.6L85.84 555.8Z" fill="#000"/>
<path d="M77.34 554.26L80.14 557.06L77.34 559.86L74.54 557.06Z" fill="#000"/>
<path d="M79.85 558.53L82.65 561.33L79.85 564.13L77.05 561.33Z" fill="#000"/>
<path d="M87.13 566.06L89.93 568.86L87.13 571.66L84.33 568.86Z" fill="#000"/>
<path d="M81.61 571.08L84.41 573.88L81.61 576.68L78.81 573.88Z" fill="#000"/>
<path d="M79.85 573.09L82.65 575.89L79.85 578.69L77.05 575.89Z" fill="#000"/>
<path d="M87.13 574.85L89.93 577.65L87.13 580.45L84.33 577.65Z" fill="#000"/>
<path d="M77.84 578.11L80.64 580.91L77.84 583.71L75.04 580.91Z" fill="#000"/>
<path d="M80.85 579.87L83.65 582.67L80.85 585.47L78.05 582.67Z" fill="#000"/>
<path d="M81.61 581.63L84.41 584.43L81.61 587.23L78.81 584.43Z" fill="#000"/>
<path d="M84.12 588.66L86.92 591.46L84.12 594.26L81.32 591.46Z" fill="#000"/>
<path d="M86.63 589.16L89.43 591.96L86.63 594.76L83.83 591.96Z" fill="#000"/>
<path d="M89.64 595.44L92.44 598.24L89.64 601.04L86.84 598.24Z" fill="#000"/>
<path d="M79.09 607.49L81.89 610.29L79.09 613.09L76.29 610.29Z" fill="#000"/>
<path d="M86.63 612.51L89.43 615.31L86.63 618.11L83.83 615.31Z" fill="#000"/>
<path d="M83.36 623.81L86.16 626.61L83.36 629.41L80.56 626.61Z" fill="#000"/>
<path d="M154.42 548.48L157.22 551.28L154.42 554.08L151.62 551.28Z" fill="#000"/>
<path d="M154.42 555.52L157.22 558.32L154.42 561.12L151.62 558.32Z" fill="#000"/>
<path d="M158.19 560.54L160.99 563.34L158.19 566.14L155.39 563.34Z" fill="#000"/>
<path d="M153.92 572.84L156.72 575.64L153.92 578.44L151.12 575.64Z" fill="#000"/>
<path d="M150.66 574.85L153.46 577.65L150.66 580.45L147.86 577.65Z" fill="#000"/>
<path d="M148.15 578.62L150.95 581.42L148.15 584.22L145.35 581.42Z" fill="#000"/>
<path d="M149.9 581.63L152.7 584.43L149.9 587.23L147.1 584.43Z" fill="#000"/>
<path d="M150.66 585.4L153.46 588.2L150.66 591L147.86 588.2Z" fill="#000"/>
<path d="M156.93 591.17L159.73 593.97L156.93 596.77L154.13 593.97Z" fill="#000"/>
<path d="M154.42 592.43L157.22 595.23L154.42 598.03L151.62 595.23Z" fill="#000"/>
<path d="M153.17 594.94L155.97 597.74L153.17 600.54L150.37 597.74Z" fill="#000"/>
<path d="M151.91 596.69L154.71 599.49L151.91 602.29L149.11 599.49Z" fill="#000"/>
<path d="M149.9 601.21L152.7 604.01L149.9 606.81L147.1 604.01Z" fill="#000"/>
<path d="M160.2 606.74L163 609.54L160.2 612.34L157.4 609.54Z" fill="#000"/>
<path d="M156.18 610.51L158.98 613.31L156.18 616.11L153.38 613.31Z" fill="#000"/>
<path d="M153.17 618.04L155.97 620.84L153.17 623.64L150.37 620.84Z" fill="#000"/>
<path d="M161.96 617.54L164.76 620.34L161.96 623.14L159.16 620.34Z" fill="#000"/>
<path d="M150.66 623.81L153.46 626.61L150.66 629.41L147.86 626.61Z" fill="#000"/>
<path d="M215.94 578.11L218.74 580.91L215.94 583.71L213.14 580.91Z" fill="#000"/>
<path d="M227.74 593.18L230.54 595.98L227.74 598.78L224.94 595.98Z" fill="#000"/>
<path d="M226.74 605.73L229.54 608.53L226.74 611.33L223.94 608.53Z" fill="#000"/>
<path d="M217.95 620.05L220.75 622.85L217.95 625.65L215.15 622.85Z" fill="#000"/>
<path d="M220.96 618.79L223.76 621.59L220.96 624.39L218.16 621.59Z" fill="#000"/>
<path d="M223.98 620.05L226.78 622.85L223.98 625.65L221.18 622.85Z" fill="#000"/>
<path d="M227.24 618.79L230.04 621.59L227.24 624.39L224.44 621.59Z" fill="#000"/>
<path d="M230.25 619.54L233.05 622.34L230.25 625.14L227.45 622.34Z" fill="#000"/>
<path d="M233.02 620.3L235.82 623.1L233.02 625.9L230.22 623.1Z" fill="#000"/>
<path d="M222.22 622.06L225.02 624.86L222.22 627.66L219.42 624.86Z" fill="#000"/>
<path d="M225.48 622.81L228.28 625.61L225.48 628.41L222.68 625.61Z" fill="#000"/>
<path d="M228.5 622.06L231.3 624.86L228.5 627.66L225.7 624.86Z" fill="#000"/>
<path d="M237.79 623.31L240.59 626.11L237.79 628.91L234.99 626.11Z" fill="#000"/>
<path d="M224.73 625.07L227.53 627.87L224.73 630.67L221.93 627.87Z" fill="#000"/>
<path d="M226.74 625.82L229.54 628.62L226.74 631.42L223.94 628.62Z" fill="#000"/>
<path d="M292.02 592.68L294.82 595.48L292.02 598.28L289.22 595.48Z" fill="#000"/>
<path d="M300.81 598.2L303.61 601L300.81 603.8L298.01 601Z" fill="#000"/>
<path d="M288.26 605.48L291.06 608.28L288.26 611.08L285.46 608.28Z" fill="#000"/>
<path d="M295.04 604.48L297.84 607.28L295.04 610.08L292.24 607.28Z" fill="#000"/>
<path d="M291.27 608.75L294.07 611.55L291.27 614.35L288.47 611.55Z" fill="#000"/>
<path d="M296.29 610L299.09 612.8L296.29 615.6L293.49 612.8Z" fill="#000"/>
<path d="M288.76 613.77L291.56 616.57L288.76 619.37L285.96 616.57Z" fill="#000"/>
<path d="M293.78 612.51L296.58 615.31L293.78 618.11L290.98 615.31Z" fill="#000"/>
<path d="M297.55 613.77L300.35 616.57L297.55 619.37L294.75 616.57Z" fill="#000"/>
<path d="M302.57 616.28L305.37 619.08L302.57 621.88L299.77 619.08Z" fill="#000"/>
<path d="M300.06 615.02L302.86 617.82L300.06 620.62L297.26 617.82Z" fill="#000"/>
<path d="M291.27 620.05L294.07 622.85L291.27 625.65L288.47 622.85Z" fill="#000"/>
<path d="M295.54 620.8L298.34 623.6L295.54 626.4L292.74 623.6Z" fill="#000"/>
<path d="M302.57 625.07L305.37 627.87L302.57 630.67L299.77 627.87Z" fill="#000"/>
<path d="M292.02 625.07L294.82 627.87L292.02 630.67L289.22 627.87Z" fill="#000"/>
<path d="M296.29 617.54L299.09 620.34L296.29 623.14L293.49 620.34Z" fill="#000"/>
<path d="M286 611.2L288.8 614L286 616.8L283.2 614Z" fill="#000"/>
<path d="M299 607.2L301.8 610L299 612.8L296.2 610Z" fill="#000"/>
<path d="M294 616.2L296.8 619L294 621.8L291.2 619Z" fill="#000"/>
<path d="M305 619.7L307.8 622.5L305 625.3L302.2 622.5Z" fill="#000"/>
<path d="M461.26 514.59L464.06 517.39L461.26 520.19L458.46 517.39Z" fill="#000"/>
<path d="M472.06 539.95L474.86 542.75L472.06 545.55L469.26 542.75Z" fill="#000"/>
<path d="M453.23 559.28L456.03 562.08L453.23 564.88L450.43 562.08Z" fill="#000"/>
<path d="M456.99 558.53L459.79 561.33L456.99 564.13L454.19 561.33Z" fill="#000"/>
<path d="M463.27 561.54L466.07 564.34L463.27 567.14L460.47 564.34Z" fill="#000"/>
<path d="M461.01 571.59L463.81 574.39L461.01 577.19L458.21 574.39Z" fill="#000"/>
<path d="M462.52 582.88L465.32 585.68L462.52 588.48L459.72 585.68Z" fill="#000"/>
<path d="M456.99 584.39L459.79 587.19L456.99 589.99L454.19 587.19Z" fill="#000"/>
<path d="M457.75 586.15L460.55 588.95L457.75 591.75L454.95 588.95Z" fill="#000"/>
<path d="M467.79 590.67L470.59 593.47L467.79 596.27L464.99 593.47Z" fill="#000"/>
<path d="M462.77 591.92L465.57 594.72L462.77 597.52L459.97 594.72Z" fill="#000"/>
<path d="M467.04 593.68L469.84 596.48L467.04 599.28L464.24 596.48Z" fill="#000"/>
<path d="M457.75 596.69L460.55 599.49L457.75 602.29L454.95 599.49Z" fill="#000"/>
<path d="M450.21 604.98L453.01 607.78L450.21 610.58L447.41 607.78Z" fill="#000"/>
<path d="M462.01 606.24L464.81 609.04L462.01 611.84L459.21 609.04Z" fill="#000"/>
<path d="M449.46 610L452.26 612.8L449.46 615.6L446.66 612.8Z" fill="#000"/>
<path d="M456.99 608.75L459.79 611.55L456.99 614.35L454.19 611.55Z" fill="#000"/>
<path d="M465.78 611.26L468.58 614.06L465.78 616.86L462.98 614.06Z" fill="#000"/>
<path d="M467.04 615.02L469.84 617.82L467.04 620.62L464.24 617.82Z" fill="#000"/>
<path d="M468.79 617.54L471.59 620.34L468.79 623.14L465.99 620.34Z" fill="#000"/>
<path d="M473.82 619.29L476.62 622.09L473.82 624.89L471.02 622.09Z" fill="#000"/>
<path d="M442.68 619.54L445.48 622.34L442.68 625.14L439.88 622.34Z" fill="#000"/>
<path d="M444.44 620.8L447.24 623.6L444.44 626.4L441.64 623.6Z" fill="#000"/>
<path d="M448.96 618.04L451.76 620.84L448.96 623.64L446.16 620.84Z" fill="#000"/>
<path d="M451.97 620.8L454.77 623.6L451.97 626.4L449.17 623.6Z" fill="#000"/>
<path d="M454.48 620.05L457.28 622.85L454.48 625.65L451.68 622.85Z" fill="#000"/>
<path d="M458.25 620.8L461.05 623.6L458.25 626.4L455.45 623.6Z" fill="#000"/>
<path d="M474.57 623.31L477.37 626.11L474.57 628.91L471.77 626.11Z" fill="#000"/>
<path d="M596.61 498.27L599.41 501.07L596.61 503.87L593.81 501.07Z" fill="#000"/>
<path d="M610.93 547.98L613.73 550.78L610.93 553.58L608.13 550.78Z" fill="#000"/>
<path d="M613.44 565.56L616.24 568.36L613.44 571.16L610.64 568.36Z" fill="#000"/>
<path d="M619.72 564.55L622.52 567.35L619.72 570.15L616.92 567.35Z" fill="#000"/>
<path d="M595.86 577.86L598.66 580.66L595.86 583.46L593.06 580.66Z" fill="#000"/>
<path d="M609.67 584.39L612.47 587.19L609.67 589.99L606.87 587.19Z" fill="#000"/>
<path d="M613.44 583.64L616.24 586.44L613.44 589.24L610.64 586.44Z" fill="#000"/>
<path d="M597.12 589.41L599.92 592.21L597.12 595.01L594.32 592.21Z" fill="#000"/>
<path d="M611.68 590.67L614.48 593.47L611.68 596.27L608.88 593.47Z" fill="#000"/>
<path d="M596.61 601.47L599.41 604.27L596.61 607.07L593.81 604.27Z" fill="#000"/>
<path d="M587.07 607.99L589.87 610.79L587.07 613.59L584.27 610.79Z" fill="#000"/>
<path d="M602.64 610L605.44 612.8L602.64 615.6L599.84 612.8Z" fill="#000"/>
<path d="M613.94 608.75L616.74 611.55L613.94 614.35L611.14 611.55Z" fill="#000"/>
<path d="M601.39 615.53L604.19 618.33L601.39 621.13L598.59 618.33Z" fill="#000"/>
<path d="M598.37 620.05L601.17 622.85L598.37 625.65L595.57 622.85Z" fill="#000"/>
<path d="M602.14 620.8L604.94 623.6L602.14 626.4L599.34 623.6Z" fill="#000"/>
<path d="M605.91 618.79L608.71 621.59L605.91 624.39L603.11 621.59Z" fill="#000"/>
<path d="M606.66 623.81L609.46 626.61L606.66 629.41L603.86 626.61Z" fill="#000"/>
<rect x="47.85" y="5.6" width="283.65" height="137.45" fill="none" stroke="#1c1c1c" stroke-width="1.4"/>
<rect x="390" y="5.6" width="283.6" height="137.45" fill="none" stroke="#1c1c1c" stroke-width="1.4"/>
<rect x="47.85" y="168.3" width="283.65" height="137.3" fill="none" stroke="#1c1c1c" stroke-width="1.4"/>
<rect x="390" y="168.3" width="283.6" height="137.3" fill="none" stroke="#1c1c1c" stroke-width="1.4"/>
<rect x="47.85" y="331.1" width="283.65" height="137" fill="none" stroke="#1c1c1c" stroke-width="1.4"/>
<rect x="390" y="331.1" width="283.6" height="137" fill="none" stroke="#1c1c1c" stroke-width="1.4"/>
<rect x="47.85" y="493.75" width="283.65" height="137.35" fill="none" stroke="#1c1c1c" stroke-width="1.4"/>
<rect x="390" y="493.75" width="283.6" height="137.35" fill="none" stroke="#1c1c1c" stroke-width="1.4"/>
<path d="M682 643.8L685 646.4" stroke="#222" stroke-width="1.3" fill="none"/>
</svg>
</body>
</html>
